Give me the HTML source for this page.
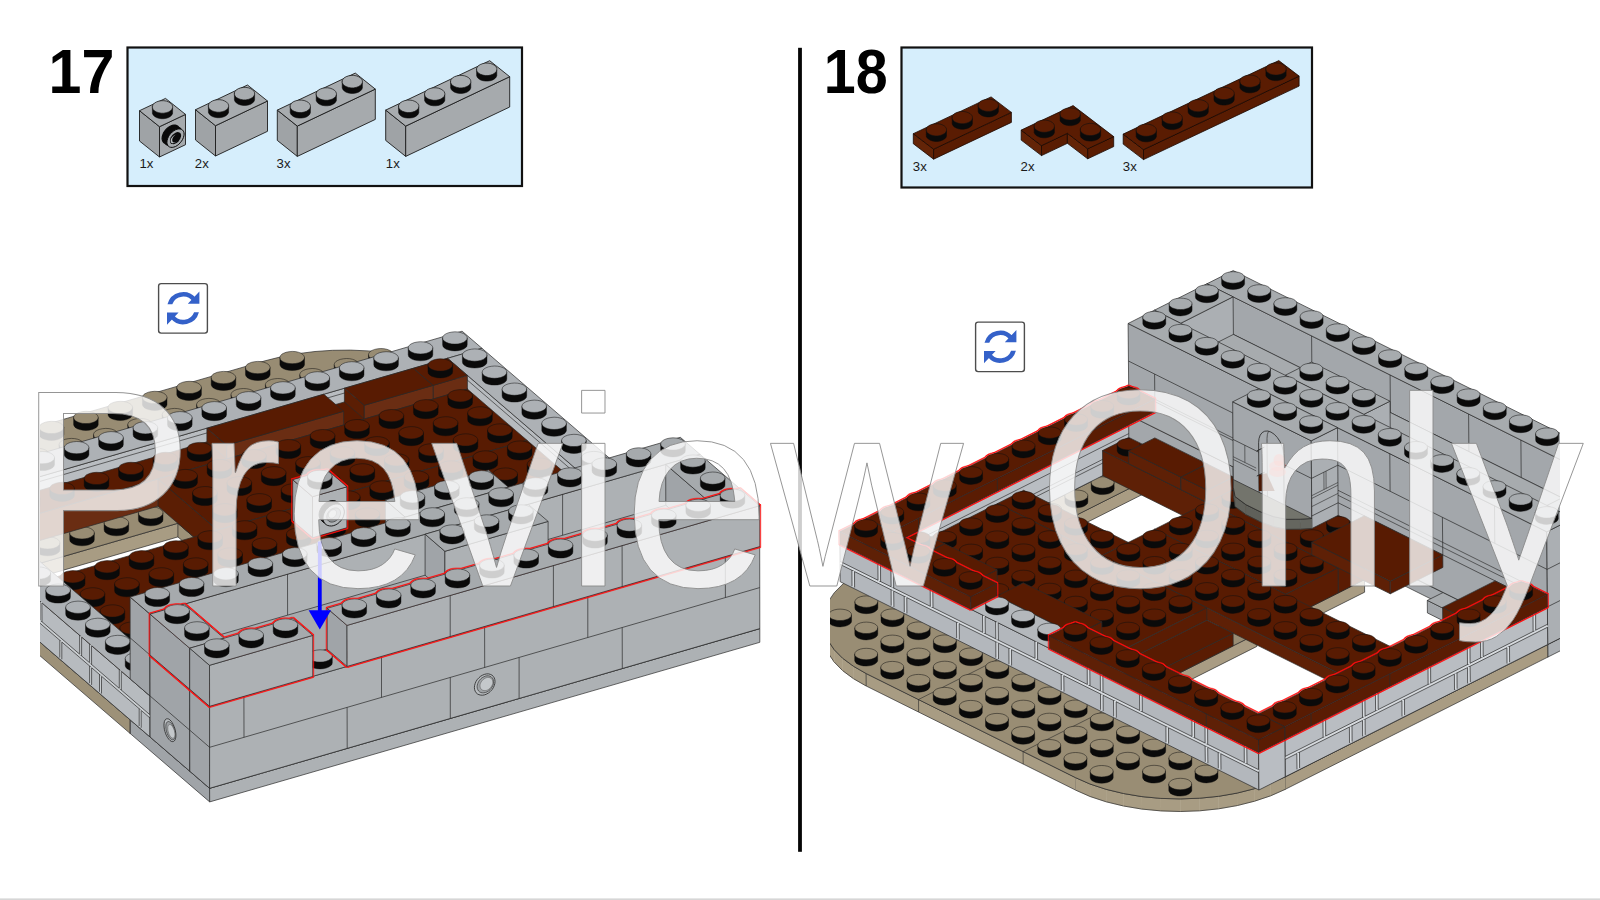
<!DOCTYPE html>
<html><head><meta charset="utf-8"><title>Step 17-18</title>
<style>
html,body{margin:0;padding:0;background:#fff;}
body{width:1600px;height:900px;overflow:hidden;position:relative;font-family:"Liberation Sans",sans-serif;}
svg{position:absolute;left:0;top:0;}
.num{font-weight:bold;font-size:63.4px;fill:#000;}
.q{font-size:13.2px;fill:#1a1a1a;}
.wm{font-size:270px;fill:#fff;fill-opacity:0.8;stroke:#8a8a8a;stroke-width:1;stroke-opacity:0.9;}
</style></head><body>
<svg width="1600" height="900" viewBox="0 0 1600 900" font-family="Liberation Sans, sans-serif">
<defs>
<clipPath id="c17"><rect x="40" y="300" width="722" height="520"/></clipPath>
<clipPath id="c18"><rect x="830" y="250" width="730" height="580"/></clipPath>
<filter id="ol" x="-2%" y="-2%" width="104%" height="104%" color-interpolation-filters="sRGB">
<feMorphology in="SourceAlpha" operator="dilate" radius="0.7" result="d"/>
<feMorphology in="SourceAlpha" operator="erode" radius="0.3" result="e"/>
<feComposite in="d" in2="e" operator="out" result="ring"/>
<feFlood flood-color="#ff0d0d"/>
<feComposite in2="ring" operator="in"/>
</filter>
<g id="a0"><polygon points="-12.3,-6.8 -12.3,0 -11.9,1.6 -10.7,3.1 -8.7,4.4 -6.2,5.3 -3.2,5.9 -0,6.1 3.2,5.9 6.2,5.3 8.7,4.3 10.7,3 11.9,1.6 12.3,-0 12.3,-6.9" fill="#0a0a0a" stroke="#0a0a0a" stroke-width="0.4"/><polygon points="10.7,-9.9 8.7,-11.2 6.1,-12.2 3.2,-12.8 -0,-13 -3.2,-12.7 -6.2,-12.1 -8.7,-11.1 -10.7,-9.9 -11.9,-8.4 -12.3,-6.8 -11.9,-5.2 -10.7,-3.7 -8.7,-2.5 -6.2,-1.5 -3.2,-0.9 -0,-0.7 3.2,-0.9 6.1,-1.5 8.7,-2.5 10.6,-3.8 11.9,-5.3 12.3,-6.9 11.9,-8.4" fill="#988c73" stroke="#111" stroke-width="0.5"/></g><g id="a1"><polygon points="-12.3,-6.8 -12.3,0 -11.9,1.6 -10.7,3.1 -8.7,4.4 -6.2,5.3 -3.2,5.9 -0,6.1 3.2,5.9 6.2,5.3 8.7,4.3 10.7,3 11.9,1.6 12.3,-0 12.3,-6.9" fill="#0a0a0a" stroke="#0a0a0a" stroke-width="0.4"/><polygon points="10.7,-9.9 8.7,-11.2 6.1,-12.2 3.2,-12.8 -0,-13 -3.2,-12.7 -6.2,-12.1 -8.7,-11.1 -10.7,-9.9 -11.9,-8.4 -12.3,-6.8 -11.9,-5.2 -10.7,-3.7 -8.7,-2.5 -6.2,-1.5 -3.2,-0.9 -0,-0.7 3.2,-0.9 6.1,-1.5 8.7,-2.5 10.6,-3.8 11.9,-5.3 12.3,-6.9 11.9,-8.4" fill="#adb1b5" stroke="#111" stroke-width="0.5"/></g><g id="a2"><polygon points="-12.3,-6.8 -12.3,0 -11.9,1.6 -10.7,3.1 -8.7,4.4 -6.2,5.3 -3.2,5.9 -0,6.1 3.2,5.9 6.2,5.3 8.7,4.3 10.7,3 11.9,1.6 12.3,-0 12.3,-6.9" fill="#0a0a0a" stroke="#0a0a0a" stroke-width="0.4"/><polygon points="10.7,-9.9 8.7,-11.2 6.1,-12.2 3.2,-12.8 -0,-13 -3.2,-12.7 -6.2,-12.1 -8.7,-11.1 -10.7,-9.9 -11.9,-8.4 -12.3,-6.8 -11.9,-5.2 -10.7,-3.7 -8.7,-2.5 -6.2,-1.5 -3.2,-0.9 -0,-0.7 3.2,-0.9 6.1,-1.5 8.7,-2.5 10.6,-3.8 11.9,-5.3 12.3,-6.9 11.9,-8.4" fill="#581b02" stroke="#111" stroke-width="0.5"/></g><g id="a3"><polygon points="-12.3,-6.8 -12.3,0 -11.9,1.6 -10.7,3.1 -8.7,4.4 -6.2,5.3 -3.2,5.9 -0,6.1 3.2,5.9 6.2,5.3 8.7,4.3 10.7,3 11.9,1.6 12.3,-0 12.3,-6.9" fill="#0a0a0a" stroke="#0a0a0a" stroke-width="0.4"/><polygon points="10.7,-9.9 8.7,-11.2 6.1,-12.2 3.2,-12.8 -0,-13 -3.2,-12.7 -6.2,-12.1 -8.7,-11.1 -10.7,-9.9 -11.9,-8.4 -12.3,-6.8 -11.9,-5.2 -10.7,-3.7 -8.7,-2.5 -6.2,-1.5 -3.2,-0.9 -0,-0.7 3.2,-0.9 6.1,-1.5 8.7,-2.5 10.6,-3.8 11.9,-5.3 12.3,-6.9 11.9,-8.4" fill="#a6aaad" stroke="#111" stroke-width="0.5"/></g><g id="p0"><polygon points="-10.1,-6.4 -10.1,-0.8 -10.1,0.8 -9.4,2.4 -8.1,3.8 -6.2,5 -3.9,5.8 -1.3,6.2 1.3,6.2 3.9,5.8 6.2,5 8.1,3.8 9.4,2.4 10.1,0.8 10.1,-4.8" fill="#0a0a0a" stroke="#0a0a0a" stroke-width="0.5"/><polygon points="8.1,-9.4 6.2,-10.5 3.9,-11.4 1.3,-11.8 -1.3,-11.8 -3.9,-11.3 -6.2,-10.5 -8.1,-9.4 -9.4,-7.9 -10.1,-6.4 -10.1,-4.7 -9.4,-3.1 -8.1,-1.7 -6.2,-0.6 -3.9,0.2 -1.3,0.7 1.3,0.7 3.9,0.2 6.2,-0.6 8.1,-1.8 9.4,-3.2 10.1,-4.8 10.1,-6.4 9.4,-8" fill="#a8acaf" stroke="#111" stroke-width="0.7"/></g><g id="b0"><polygon points="-11.5,-6.2 -11.5,0 -11.1,1.5 -10,2.9 -8.1,4.1 -5.8,5 -3,5.6 -0,5.8 3,5.5 5.7,5 8.1,4 9.9,2.8 11.1,1.4 11.5,-0 11.4,-6.3" fill="#0a0a0a" stroke="#0a0a0a" stroke-width="0.4"/><polygon points="8.1,-10.4 5.7,-11.3 2.9,-11.8 -0,-12 -3,-11.8 -5.8,-11.2 -8.2,-10.3 -10,-9.1 -11.1,-7.7 -11.5,-6.2 -11.2,-4.7 -10,-3.3 -8.2,-2.2 -5.8,-1.3 -3,-0.7 -0.1,-0.5 2.9,-0.7 5.7,-1.3 8.1,-2.2 9.9,-3.4 11,-4.8 11.4,-6.3 11.1,-7.8 9.9,-9.2" fill="#a7abae" stroke="#111" stroke-width="0.5"/></g><g id="b1"><polygon points="-11.5,-6.2 -11.5,0 -11.1,1.5 -10,2.9 -8.1,4.1 -5.8,5 -3,5.6 -0,5.8 3,5.5 5.7,5 8.1,4 9.9,2.8 11.1,1.4 11.5,-0 11.4,-6.3" fill="#0a0a0a" stroke="#0a0a0a" stroke-width="0.4"/><polygon points="8.1,-10.4 5.7,-11.3 2.9,-11.8 -0,-12 -3,-11.8 -5.8,-11.2 -8.2,-10.3 -10,-9.1 -11.1,-7.7 -11.5,-6.2 -11.2,-4.7 -10,-3.3 -8.2,-2.2 -5.8,-1.3 -3,-0.7 -0.1,-0.5 2.9,-0.7 5.7,-1.3 8.1,-2.2 9.9,-3.4 11,-4.8 11.4,-6.3 11.1,-7.8 9.9,-9.2" fill="#998d74" stroke="#111" stroke-width="0.5"/></g><g id="b2"><polygon points="-11.5,-6.2 -11.5,0 -11.1,1.5 -10,2.9 -8.1,4.1 -5.8,5 -3,5.6 -0,5.8 3,5.5 5.7,5 8.1,4 9.9,2.8 11.1,1.4 11.5,-0 11.4,-6.3" fill="#0a0a0a" stroke="#0a0a0a" stroke-width="0.4"/><polygon points="8.1,-10.4 5.7,-11.3 2.9,-11.8 -0,-12 -3,-11.8 -5.8,-11.2 -8.2,-10.3 -10,-9.1 -11.1,-7.7 -11.5,-6.2 -11.2,-4.7 -10,-3.3 -8.2,-2.2 -5.8,-1.3 -3,-0.7 -0.1,-0.5 2.9,-0.7 5.7,-1.3 8.1,-2.2 9.9,-3.4 11,-4.8 11.4,-6.3 11.1,-7.8 9.9,-9.2" fill="#581b02" stroke="#111" stroke-width="0.5"/></g><g id="b3"><polygon points="-11.5,-6.2 -11.5,0 -11.1,1.5 -10,2.9 -8.1,4.1 -5.8,5 -3,5.6 -0,5.8 3,5.5 5.7,5 8.1,4 9.9,2.8 11.1,1.4 11.5,-0 11.4,-6.3" fill="#0a0a0a" stroke="#0a0a0a" stroke-width="0.4"/><polygon points="8.1,-10.4 5.7,-11.3 2.9,-11.8 -0,-12 -3,-11.8 -5.8,-11.2 -8.2,-10.3 -10,-9.1 -11.1,-7.7 -11.5,-6.2 -11.2,-4.7 -10,-3.3 -8.2,-2.2 -5.8,-1.3 -3,-0.7 -0.1,-0.5 2.9,-0.7 5.7,-1.3 8.1,-2.2 9.9,-3.4 11,-4.8 11.4,-6.3 11.1,-7.8 9.9,-9.2" fill="#b4b8bc" stroke="#111" stroke-width="0.5"/></g><g id="q0"><polygon points="-10.1,-6.2 -10.1,-0.7 -10.1,0.9 -9.4,2.4 -8,3.8 -6.1,4.9 -3.8,5.7 -1.2,6.1 1.4,6.1 4,5.6 6.3,4.8 8.2,3.7 9.5,2.3 10.1,0.7 10.1,-4.8" fill="#0a0a0a" stroke="#0a0a0a" stroke-width="0.5"/><polygon points="8,-9.3 6.1,-10.4 3.8,-11.2 1.2,-11.6 -1.4,-11.6 -4,-11.1 -6.3,-10.3 -8.2,-9.2 -9.5,-7.8 -10.1,-6.2 -10.1,-4.6 -9.4,-3.1 -8,-1.7 -6.1,-0.6 -3.8,0.2 -1.2,0.6 1.4,0.6 4,0.1 6.3,-0.7 8.2,-1.8 9.5,-3.2 10.1,-4.8 10.1,-6.4 9.4,-7.9" fill="#5a1c02" stroke="#111" stroke-width="0.6"/></g>
</defs>
<rect x="0" y="0" width="1600" height="900" fill="#fff"/>
<rect x="0" y="898.4" width="1600" height="1.6" fill="#d6d6d6"/>
<rect x="798.1" y="47.8" width="3.8" height="804" fill="#050505"/>

<rect x="127.5" y="47.5" width="394.5" height="138.5" fill="#d6eefc" stroke="#111" stroke-width="2.2"/>
<rect x="901.5" y="47.5" width="410.5" height="140" fill="#d6eefc" stroke="#111" stroke-width="2.2"/>
<text class="num" transform="translate(48.6,92.9) scale(0.934,1)">17</text>
<text class="num" transform="translate(823.7,93.4) scale(0.906,1)">18</text>
<polygon points="159.5,157 139.5,141 139.5,110.7 159.5,126.7" fill="#9fa3a6" stroke="#1c1c1c" stroke-width="0.9" stroke-linejoin="round"/><polygon points="159.5,157 185.5,144.7 185.5,114.4 159.5,126.7" fill="#a6aaad" stroke="#1c1c1c" stroke-width="0.9" stroke-linejoin="round"/><polygon points="159.5,126.7 185.5,114.4 165.5,98.4 139.5,110.7" fill="#a8acaf" stroke="#1c1c1c" stroke-width="0.9" stroke-linejoin="round"/><use href="#p0" x="162.5" y="112.5"/>
<polygon points="179.3,130.2 179.1,128.7 178.6,127.4 177.8,126.3 176.7,125.5 175.4,125.1 174,125.1 172.4,125.4 170.7,126 169,126.9 167.4,128.2 165.9,129.7 164.6,131.3 163.5,133.1 162.8,134.9 162.3,136.7 162.1,138.4 162.3,139.9 162.8,141.3 163.5,142.3 164.6,143.1 165.9,143.5 167.4,143.6 169,143.3 170.7,142.7 172.4,141.7 174,140.5 175.4,139 176.7,137.3 177.8,135.6 178.6,133.7 179.1,131.9" fill="#0a0a0a" stroke="#0a0a0a" stroke-width="1.2"/>
<polygon points="181.7,132.2 181.5,130.6 181,129.3 180.2,128.2 179.1,127.5 177.8,127 176.4,127 174.8,127.3 173.1,127.9 171.4,128.9 169.8,130.1 168.3,131.6 167,133.2 165.9,135 165.2,136.8 164.7,138.6 164.5,140.3 164.7,141.9 165.2,143.2 165.9,144.3 167,145 168.3,145.4 169.8,145.5 171.4,145.2 173.1,144.6 174.8,143.6 176.4,142.4 177.8,140.9 179.1,139.2 180.2,137.5 181,135.7 181.5,133.9" fill="#0a0a0a" stroke="#0a0a0a" stroke-width="1.2"/>
<polygon points="184.1,134.1 183.9,132.5 183.4,131.2 182.6,130.1 181.5,129.4 180.2,129 178.8,128.9 177.2,129.2 175.5,129.8 173.8,130.8 172.2,132 170.7,133.5 169.4,135.1 168.3,136.9 167.6,138.7 167.1,140.5 166.9,142.2 167.1,143.8 167.6,145.1 168.3,146.2 169.4,146.9 170.7,147.3 172.2,147.4 173.8,147.1 175.5,146.5 177.2,145.5 178.8,144.3 180.2,142.8 181.5,141.2 182.6,139.4 183.4,137.6 183.9,135.8" fill="#a6aaad" stroke="#0a0a0a" stroke-width="1"/>
<polygon points="181.1,135.5 181,134.5 180.6,133.6 180.1,132.9 179.4,132.4 178.6,132.2 177.6,132.1 176.6,132.3 175.5,132.7 174.4,133.4 173.3,134.2 172.4,135.1 171.5,136.2 170.8,137.3 170.3,138.5 170,139.7 169.9,140.8 170,141.8 170.3,142.7 170.8,143.4 171.5,143.9 172.4,144.1 173.3,144.2 174.4,144 175.5,143.6 176.6,143 177.6,142.2 178.6,141.2 179.4,140.1 180.1,139 180.6,137.8 181,136.6" fill="#0a0a0a"/>
<polygon points="178.4,137.2 178.3,136.5 178.1,135.9 177.7,135.4 177.2,135.1 176.6,134.9 176,134.8 175.2,135 174.5,135.3 173.7,135.7 173,136.3 172.3,136.9 171.7,137.7 171.2,138.5 170.9,139.3 170.7,140.1 170.6,140.9 170.7,141.6 170.9,142.2 171.2,142.7 171.7,143 172.3,143.2 173,143.3 173.7,143.1 174.5,142.8 175.2,142.4 176,141.8 176.6,141.2 177.2,140.4 177.7,139.6 178.1,138.8 178.3,138" fill="#b9bdc0"/>
<polygon points="180,136.4 179.9,135.7 179.7,135.1 179.3,134.6 178.8,134.3 178.2,134.1 177.6,134 176.8,134.2 176.1,134.5 175.3,134.9 174.6,135.5 173.9,136.1 173.3,136.9 172.8,137.7 172.5,138.5 172.3,139.3 172.2,140.1 172.3,140.8 172.5,141.4 172.8,141.9 173.3,142.2 173.9,142.4 174.6,142.5 175.3,142.3 176.1,142 176.8,141.6 177.6,141 178.2,140.4 178.8,139.6 179.3,138.8 179.7,138 179.9,137.2" fill="#0a0a0a"/>
<polygon points="215.5,156 195.5,140 195.5,109.7 215.5,125.7" fill="#9fa3a6" stroke="#1c1c1c" stroke-width="0.9" stroke-linejoin="round"/><polygon points="215.5,156 267.5,131.3 267.5,101 215.5,125.7" fill="#a6aaad" stroke="#1c1c1c" stroke-width="0.9" stroke-linejoin="round"/><polygon points="215.5,125.7 267.5,101 247.5,85 195.5,109.7" fill="#a8acaf" stroke="#1c1c1c" stroke-width="0.9" stroke-linejoin="round"/><use href="#p0" x="244.5" y="99.2"/><use href="#p0" x="218.5" y="111.5"/>
<polygon points="297.3,156.4 277.3,140.4 277.3,110.1 297.3,126.1" fill="#9fa3a6" stroke="#1c1c1c" stroke-width="0.9" stroke-linejoin="round"/><polygon points="297.3,156.4 375.3,119.4 375.3,89.1 297.3,126.1" fill="#a6aaad" stroke="#1c1c1c" stroke-width="0.9" stroke-linejoin="round"/><polygon points="297.3,126.1 375.3,89.1 355.3,73.1 277.3,110.1" fill="#a8acaf" stroke="#1c1c1c" stroke-width="0.9" stroke-linejoin="round"/><use href="#p0" x="352.3" y="87.2"/><use href="#p0" x="326.3" y="99.6"/><use href="#p0" x="300.3" y="111.9"/>
<polygon points="405.7,156.4 385.7,140.4 385.7,110.1 405.7,126.1" fill="#9fa3a6" stroke="#1c1c1c" stroke-width="0.9" stroke-linejoin="round"/><polygon points="405.7,156.4 509.7,107 509.7,76.7 405.7,126.1" fill="#a6aaad" stroke="#1c1c1c" stroke-width="0.9" stroke-linejoin="round"/><polygon points="405.7,126.1 509.7,76.7 489.7,60.7 385.7,110.1" fill="#a8acaf" stroke="#1c1c1c" stroke-width="0.9" stroke-linejoin="round"/><use href="#p0" x="486.7" y="74.9"/><use href="#p0" x="460.7" y="87.2"/><use href="#p0" x="434.7" y="99.6"/><use href="#p0" x="408.7" y="111.9"/>
<polygon points="933.6,159.2 913.3,143.7 913.3,133.7 933.6,149.2" fill="#632407" stroke="#1a0800" stroke-width="0.8" stroke-linejoin="round"/><polygon points="933.6,159.2 1011.4,122.4 1011.4,112.4 933.6,149.2" fill="#591c02" stroke="#1a0800" stroke-width="0.8" stroke-linejoin="round"/><polygon points="933.6,149.2 1011.4,112.4 991.1,96.9 913.3,133.7" fill="#5a1c02" stroke="#1a0800" stroke-width="0.8" stroke-linejoin="round"/><use href="#q0" x="988.3" y="110.8"/><use href="#q0" x="962.3" y="123.1"/><use href="#q0" x="936.4" y="135.3"/>
<polygon points="1041.5,155.6 1067.4,143.3 1067.4,133.3 1041.5,145.6" fill="#591c02" stroke="#1a0800" stroke-width="0.8" stroke-linejoin="round"/><polygon points="1067.4,143.3 1087.7,158.8 1087.7,148.8 1067.4,133.3" fill="#632407" stroke="#1a0800" stroke-width="0.8" stroke-linejoin="round"/><polygon points="1087.7,158.8 1113.7,146.6 1113.7,136.6 1087.7,148.8" fill="#591c02" stroke="#1a0800" stroke-width="0.8" stroke-linejoin="round"/><polygon points="1021.2,140.1 1041.5,155.6 1041.5,145.6 1021.2,130.1" fill="#632407" stroke="#1a0800" stroke-width="0.8" stroke-linejoin="round"/><polygon points="1041.5,145.6 1067.4,133.3 1087.7,148.8 1113.7,136.6 1073.1,105.6 1021.2,130.1" fill="#5a1c02" stroke="#1a0800" stroke-width="0.8" stroke-linejoin="round"/><use href="#q0" x="1070.2" y="119.5"/><use href="#q0" x="1044.3" y="131.7"/><use href="#q0" x="1090.5" y="135"/>
<polygon points="1143.5,159.6 1123.2,144.1 1123.2,134.1 1143.5,149.6" fill="#632407" stroke="#1a0800" stroke-width="0.8" stroke-linejoin="round"/><polygon points="1143.5,159.6 1299.1,86.1 1299.1,76.1 1143.5,149.6" fill="#591c02" stroke="#1a0800" stroke-width="0.8" stroke-linejoin="round"/><polygon points="1143.5,149.6 1299.1,76.1 1278.8,60.6 1123.2,134.1" fill="#5a1c02" stroke="#1a0800" stroke-width="0.8" stroke-linejoin="round"/><use href="#q0" x="1276" y="74.5"/><use href="#q0" x="1250" y="86.7"/><use href="#q0" x="1224.1" y="99"/><use href="#q0" x="1198.2" y="111.2"/><use href="#q0" x="1172.2" y="123.5"/><use href="#q0" x="1146.3" y="135.7"/>
<text class="q" x="139.4" y="168.3">1x</text>
<text class="q" x="194.8" y="168.3">2x</text>
<text class="q" x="276.6" y="168.3">3x</text>
<text class="q" x="385.8" y="168.3">1x</text>
<text class="q" x="912.8" y="170.6">3x</text>
<text class="q" x="1020.6" y="170.6">2x</text>
<text class="q" x="1122.8" y="170.6">3x</text>
<rect x="158.6" y="283.6" width="48.8" height="49.5" rx="2.5" fill="#fff" stroke="#4d4d4d" stroke-width="1.4"/>
<g transform="translate(183.2,308.2)" fill="#3461c9"><path d="M-15.7,-4 A16.2,16.2 0 0 1 12.4,-10.4 L9.7,-6.3 A11.6,11.6 0 0 0 -10.9,-4 Z M16.2,-16.6 L16.2,-4.4 L4.6,-4.4 Z"/><path d="M-15.7,-4 A16.2,16.2 0 0 1 12.4,-10.4 L9.7,-6.3 A11.6,11.6 0 0 0 -10.9,-4 Z M16.2,-16.6 L16.2,-4.4 L4.6,-4.4 Z" transform="rotate(180)"/></g>
<rect x="975.6" y="322.1" width="48.8" height="49.5" rx="2.5" fill="#fff" stroke="#4d4d4d" stroke-width="1.4"/>
<g transform="translate(1000.2,346.7)" fill="#3461c9"><path d="M-15.7,-4 A16.2,16.2 0 0 1 12.4,-10.4 L9.7,-6.3 A11.6,11.6 0 0 0 -10.9,-4 Z M16.2,-16.6 L16.2,-4.4 L4.6,-4.4 Z"/><path d="M-15.7,-4 A16.2,16.2 0 0 1 12.4,-10.4 L9.7,-6.3 A11.6,11.6 0 0 0 -10.9,-4 Z M16.2,-16.6 L16.2,-4.4 L4.6,-4.4 Z" transform="rotate(180)"/></g>
<g clip-path="url(#c17)"><polygon points="-234.7,656.7 521.7,437.1 521.7,423.5 -234.8,643" fill="#a89c83" stroke="#2a2a2a" stroke-width="0.7" stroke-linejoin="round"/><polygon points="-353.8,554.1 -234.7,656.7 -234.8,643 -353.8,540.5" fill="#a89c83" stroke="#2a2a2a" stroke-width="0.7" stroke-linejoin="round"/><polygon points="-234.8,643 521.7,423.5 482,389.3 472.3,381.9 460.9,375.1 448.1,369 434,363.6 418.7,359 402.5,355.4 385.6,352.6 368.2,350.9 350.5,350.1 332.6,350.3 315,351.5 297.7,353.7 281,356.8 265.1,360.8 -353.8,540.5" fill="#988c73" stroke="#2a2a2a" stroke-width="0.7" stroke-linejoin="round"/><use href="#a0" x="380.8" y="361.5"/><use href="#a0" x="435.1" y="368.7"/><use href="#a0" x="292.2" y="364.4"/><use href="#a0" x="346.5" y="371.5"/><use href="#a0" x="400.7" y="378.6"/><use href="#a0" x="257.8" y="374.4"/><use href="#a0" x="312.1" y="381.5"/><use href="#a0" x="366.3" y="388.6"/><use href="#a0" x="223.5" y="384.4"/><use href="#a0" x="277.7" y="391.5"/><use href="#a0" x="331.9" y="398.6"/><use href="#a0" x="189.1" y="394.3"/><use href="#a0" x="243.3" y="401.5"/><use href="#a0" x="297.5" y="408.6"/><use href="#a0" x="154.7" y="404.3"/><use href="#a0" x="208.9" y="411.4"/><use href="#a0" x="263.1" y="418.5"/><use href="#a0" x="120.3" y="414.3"/><use href="#a0" x="174.5" y="421.4"/><use href="#a0" x="228.8" y="428.5"/><use href="#a0" x="85.9" y="424.3"/><use href="#a0" x="140.1" y="431.4"/><use href="#a0" x="194.4" y="438.5"/><use href="#a0" x="51.5" y="434.3"/><use href="#a0" x="105.8" y="441.4"/><use href="#a0" x="160" y="448.5"/><use href="#a0" x="17.2" y="444.2"/><use href="#a0" x="71.4" y="451.4"/><use href="#a0" x="125.6" y="458.5"/><use href="#a0" x="-17.2" y="454.2"/><use href="#a0" x="37" y="461.3"/><use href="#a0" x="91.2" y="468.4"/><use href="#a0" x="-51.6" y="464.2"/><use href="#a0" x="2.6" y="471.3"/><use href="#a0" x="56.8" y="478.4"/><use href="#a0" x="-86" y="474.2"/><use href="#a0" x="-31.8" y="481.3"/><use href="#a0" x="22.5" y="488.4"/><use href="#a0" x="-120.4" y="484.2"/><use href="#a0" x="-66.2" y="491.3"/><use href="#a0" x="-11.9" y="498.4"/><use href="#a0" x="150.7" y="519.7"/><use href="#a0" x="-154.8" y="494.1"/><use href="#a0" x="-100.5" y="501.2"/><use href="#a0" x="-46.3" y="508.4"/><use href="#a0" x="116.4" y="529.7"/><use href="#a0" x="-189.1" y="504.1"/><use href="#a0" x="-134.9" y="511.2"/><use href="#a0" x="-80.7" y="518.3"/><use href="#a0" x="82" y="539.7"/><use href="#a0" x="-223.5" y="514.1"/><use href="#a0" x="-169.3" y="521.2"/><use href="#a0" x="-115.1" y="528.3"/><use href="#a0" x="47.6" y="549.7"/><use href="#a0" x="-257.9" y="524.1"/><use href="#a0" x="-203.7" y="531.2"/><use href="#a0" x="-149.5" y="538.3"/><use href="#a0" x="13.2" y="559.6"/><use href="#a0" x="-292.3" y="534"/><use href="#a0" x="-238.1" y="541.2"/><use href="#a0" x="-183.9" y="548.3"/><use href="#a0" x="-272.5" y="551.1"/><use href="#a0" x="-218.2" y="558.3"/><use href="#a0" x="-252.6" y="568.2"/>
<polygon points="-68.1,549 -88,531.9 -88,490.9 -68.2,508" fill="#b7bbbf" stroke="#2a2a2a" stroke-width="0.7" stroke-linejoin="round"/><polygon points="-68.1,549 482,389.3 482,348.3 -68.2,508" fill="#b9bdc1" stroke="#2a2a2a" stroke-width="0.7" stroke-linejoin="round"/><polygon points="-68.2,508 482,348.3 462.1,331.2 -88,490.9" fill="#adb1b5" stroke="#2a2a2a" stroke-width="0.7" stroke-linejoin="round"/><line x1="-68.2" y1="512.8" x2="482" y2="353.1" stroke="#333" stroke-width="0.7"/><use href="#a1" x="454.9" y="344.8"/><use href="#a1" x="420.5" y="354.7"/><use href="#a1" x="386.1" y="364.7"/><use href="#a1" x="351.7" y="374.7"/><use href="#a1" x="317.3" y="384.7"/><use href="#a1" x="282.9" y="394.7"/><use href="#a1" x="248.6" y="404.6"/><use href="#a1" x="214.2" y="414.6"/><use href="#a1" x="179.8" y="424.6"/><use href="#a1" x="145.4" y="434.6"/><use href="#a1" x="111" y="444.6"/><use href="#a1" x="76.6" y="454.5"/><use href="#a1" x="42.2" y="464.5"/><use href="#a1" x="7.9" y="474.5"/><use href="#a1" x="-26.5" y="484.5"/><use href="#a1" x="-60.9" y="494.5"/>
<polygon points="217.6,571.1 177.9,536.9 177.9,523.3 217.5,557.5" fill="#9d9178" stroke="#2a2a2a" stroke-width="0.7" stroke-linejoin="round"/><polygon points="217.6,571.1 561.4,471.3 561.4,457.7 217.5,557.5" fill="#b8ac94" stroke="#2a2a2a" stroke-width="0.7" stroke-linejoin="round"/><polygon points="217.5,557.5 561.4,457.7 521.7,423.5 177.9,523.3" fill="#988c73" stroke="#2a2a2a" stroke-width="0.7" stroke-linejoin="round"/>
<polygon points="11.2,631 -28.4,596.8 -28.4,583.2 11.2,617.3" fill="#9d9178" stroke="#2a2a2a" stroke-width="0.7" stroke-linejoin="round"/><polygon points="11.2,631 45.6,621 45.6,607.4 11.2,617.3" fill="#b8ac94" stroke="#2a2a2a" stroke-width="0.7" stroke-linejoin="round"/><polygon points="11.2,617.3 45.6,607.4 5.9,573.2 -28.4,583.2" fill="#988c73" stroke="#2a2a2a" stroke-width="0.7" stroke-linejoin="round"/>
<polygon points="130.3,733.6 11.2,631 11.2,617.3 130.3,719.9" fill="#9d9178" stroke="#2a2a2a" stroke-width="0.7" stroke-linejoin="round"/><polygon points="130.3,733.6 680.4,573.9 680.4,560.2 130.3,719.9" fill="#b8ac94" stroke="#2a2a2a" stroke-width="0.7" stroke-linejoin="round"/><polygon points="130.3,719.9 680.4,560.2 561.4,457.7 11.2,617.3" fill="#988c73" stroke="#2a2a2a" stroke-width="0.7" stroke-linejoin="round"/>
<polygon points="646,570.2 447.6,399.3 447.6,358.3 646,529.2" fill="#b7bbbf" stroke="#2a2a2a" stroke-width="0.7" stroke-linejoin="round"/><polygon points="646,570.2 680.4,560.2 680.4,519.3 646,529.2" fill="#b9bdc1" stroke="#2a2a2a" stroke-width="0.7" stroke-linejoin="round"/><polygon points="646,529.2 680.4,519.3 482,348.3 447.6,358.3" fill="#adb1b5" stroke="#2a2a2a" stroke-width="0.7" stroke-linejoin="round"/><line x1="646" y1="534" x2="447.6" y2="363.1" stroke="#333" stroke-width="0.7"/><use href="#a1" x="474.7" y="361.9"/><use href="#a1" x="494.5" y="379"/><use href="#a1" x="514.4" y="396"/><use href="#a1" x="534.2" y="413.1"/><use href="#a1" x="554.1" y="430.2"/><use href="#a1" x="573.9" y="447.3"/><use href="#a1" x="593.7" y="464.4"/><use href="#a1" x="613.6" y="481.5"/><use href="#a1" x="633.4" y="498.6"/><use href="#a1" x="653.3" y="515.7"/>
<polygon points="-13.9,556.1 -33.7,539 -33.8,511.7 -13.9,528.8" fill="#5b1e04" stroke="#2a2a2a" stroke-width="0.7" stroke-linejoin="round"/><polygon points="-13.9,556.1 467.5,416.4 467.4,389.1 -13.9,528.8" fill="#6a2d13" stroke="#2a2a2a" stroke-width="0.7" stroke-linejoin="round"/><polygon points="-13.9,528.8 467.4,389.1 447.6,372 -33.8,511.7" fill="#581b02" stroke="#2a2a2a" stroke-width="0.7" stroke-linejoin="round"/><use href="#a2" x="199.6" y="455.4"/><use href="#a2" x="165.3" y="465.3"/><use href="#a2" x="130.9" y="475.3"/><use href="#a2" x="96.5" y="485.3"/><use href="#a2" x="62.1" y="495.3"/><use href="#a2" x="27.7" y="505.2"/><use href="#a2" x="-6.7" y="515.2"/>
<polygon points="433.1,399 413.2,381.9 413.2,368.3 433,385.4" fill="#5b1e04" stroke="#2a2a2a" stroke-width="0.7" stroke-linejoin="round"/><polygon points="433.1,399 467.4,389.1 467.4,375.4 433,385.4" fill="#6a2d13" stroke="#2a2a2a" stroke-width="0.7" stroke-linejoin="round"/><polygon points="433,385.4 467.4,375.4 447.6,358.3 413.2,368.3" fill="#581b02" stroke="#2a2a2a" stroke-width="0.7" stroke-linejoin="round"/><use href="#a2" x="440.3" y="371.8"/>
<polygon points="364.3,419 344.4,401.9 344.4,388.2 364.3,405.3" fill="#5b1e04" stroke="#2a2a2a" stroke-width="0.7" stroke-linejoin="round"/><polygon points="364.3,419 433.1,399 433,385.4 364.3,405.3" fill="#6a2d13" stroke="#2a2a2a" stroke-width="0.7" stroke-linejoin="round"/><polygon points="364.3,405.3 433,385.4 413.2,368.3 344.4,388.2" fill="#581b02" stroke="#2a2a2a" stroke-width="0.7" stroke-linejoin="round"/>
<polygon points="226.8,458.9 206.9,441.8 206.9,428.2 226.7,445.2" fill="#5b1e04" stroke="#2a2a2a" stroke-width="0.7" stroke-linejoin="round"/><polygon points="226.8,458.9 343.7,425 343.6,411.3 226.7,445.2" fill="#6a2d13" stroke="#2a2a2a" stroke-width="0.7" stroke-linejoin="round"/><polygon points="226.7,445.2 343.6,411.3 323.8,394.2 206.9,428.2" fill="#581b02" stroke="#2a2a2a" stroke-width="0.7" stroke-linejoin="round"/>
<polygon points="217.5,557.5 158,506.2 158,478.9 217.5,530.1" fill="#5b1e04" stroke="#2a2a2a" stroke-width="0.7" stroke-linejoin="round"/><polygon points="217.5,557.5 527,467.7 527,440.3 217.5,530.1" fill="#6a2d13" stroke="#2a2a2a" stroke-width="0.7" stroke-linejoin="round"/><polygon points="217.5,530.1 527,440.3 467.4,389.1 158,478.9" fill="#581b02" stroke="#2a2a2a" stroke-width="0.7" stroke-linejoin="round"/><use href="#a2" x="460.2" y="402.6"/><use href="#a2" x="425.8" y="412.6"/><use href="#a2" x="391.4" y="422.5"/><use href="#a2" x="357" y="432.5"/><use href="#a2" x="322.6" y="442.5"/><use href="#a2" x="288.3" y="452.5"/><use href="#a2" x="253.9" y="462.5"/><use href="#a2" x="219.5" y="472.4"/><use href="#a2" x="185.1" y="482.4"/><use href="#a2" x="480" y="419.7"/><use href="#a2" x="445.6" y="429.7"/><use href="#a2" x="411.2" y="439.6"/><use href="#a2" x="376.9" y="449.6"/><use href="#a2" x="342.5" y="459.6"/><use href="#a2" x="308.1" y="469.6"/><use href="#a2" x="273.7" y="479.6"/><use href="#a2" x="239.3" y="489.5"/><use href="#a2" x="204.9" y="499.5"/><use href="#a2" x="499.9" y="436.8"/><use href="#a2" x="465.5" y="446.8"/><use href="#a2" x="431.1" y="456.7"/><use href="#a2" x="396.7" y="466.7"/><use href="#a2" x="362.3" y="476.7"/><use href="#a2" x="327.9" y="486.7"/><use href="#a2" x="293.5" y="496.7"/><use href="#a2" x="259.2" y="506.6"/><use href="#a2" x="224.8" y="516.6"/>
<polygon points="164.7,709.9 45.6,607.4 45.6,580 164.6,682.6" fill="#5b1e04" stroke="#2a2a2a" stroke-width="0.7" stroke-linejoin="round"/><polygon points="164.7,709.9 646,570.2 646,542.9 164.6,682.6" fill="#6a2d13" stroke="#2a2a2a" stroke-width="0.7" stroke-linejoin="round"/><polygon points="164.6,682.6 646,542.9 527,440.3 45.6,580" fill="#581b02" stroke="#2a2a2a" stroke-width="0.7" stroke-linejoin="round"/><use href="#a2" x="519.7" y="453.9"/><use href="#a2" x="485.3" y="463.8"/><use href="#a2" x="450.9" y="473.8"/><use href="#a2" x="416.5" y="483.8"/><use href="#a2" x="382.2" y="493.8"/><use href="#a2" x="347.8" y="503.8"/><use href="#a2" x="313.4" y="513.7"/><use href="#a2" x="279" y="523.7"/><use href="#a2" x="244.6" y="533.7"/><use href="#a2" x="210.2" y="543.7"/><use href="#a2" x="175.9" y="553.7"/><use href="#a2" x="141.5" y="563.6"/><use href="#a2" x="107.1" y="573.6"/><use href="#a2" x="72.7" y="583.6"/><use href="#a2" x="539.5" y="471"/><use href="#a2" x="505.2" y="480.9"/><use href="#a2" x="470.8" y="490.9"/><use href="#a2" x="436.4" y="500.9"/><use href="#a2" x="402" y="510.9"/><use href="#a2" x="367.6" y="520.9"/><use href="#a2" x="333.2" y="530.8"/><use href="#a2" x="298.8" y="540.8"/><use href="#a2" x="264.5" y="550.8"/><use href="#a2" x="230.1" y="560.8"/><use href="#a2" x="195.7" y="570.8"/><use href="#a2" x="161.3" y="580.7"/><use href="#a2" x="126.9" y="590.7"/><use href="#a2" x="92.5" y="600.7"/><use href="#a2" x="559.4" y="488.1"/><use href="#a2" x="525" y="498"/><use href="#a2" x="490.6" y="508"/><use href="#a2" x="456.2" y="518"/><use href="#a2" x="421.8" y="528"/><use href="#a2" x="387.5" y="538"/><use href="#a2" x="353.1" y="547.9"/><use href="#a2" x="318.7" y="557.9"/><use href="#a2" x="284.3" y="567.9"/><use href="#a2" x="249.9" y="577.9"/><use href="#a2" x="215.5" y="587.8"/><use href="#a2" x="181.2" y="597.8"/><use href="#a2" x="146.8" y="607.8"/><use href="#a2" x="112.4" y="617.8"/><use href="#a2" x="579.2" y="505.1"/><use href="#a2" x="544.8" y="515.1"/><use href="#a2" x="510.4" y="525.1"/><use href="#a2" x="476.1" y="535.1"/><use href="#a2" x="441.7" y="545.1"/><use href="#a2" x="407.3" y="555"/><use href="#a2" x="372.9" y="565"/><use href="#a2" x="338.5" y="575"/><use href="#a2" x="304.1" y="585"/><use href="#a2" x="269.8" y="595"/><use href="#a2" x="235.4" y="604.9"/><use href="#a2" x="201" y="614.9"/><use href="#a2" x="166.6" y="624.9"/><use href="#a2" x="132.2" y="634.9"/><use href="#a2" x="599.1" y="522.2"/><use href="#a2" x="564.7" y="532.2"/><use href="#a2" x="530.3" y="542.2"/><use href="#a2" x="495.9" y="552.2"/><use href="#a2" x="461.5" y="562.2"/><use href="#a2" x="427.1" y="572.1"/><use href="#a2" x="392.8" y="582.1"/><use href="#a2" x="358.4" y="592.1"/><use href="#a2" x="324" y="602.1"/><use href="#a2" x="289.6" y="612.1"/><use href="#a2" x="255.2" y="622"/><use href="#a2" x="220.8" y="632"/><use href="#a2" x="186.4" y="642"/><use href="#a2" x="152.1" y="652"/><use href="#a2" x="618.9" y="539.3"/><use href="#a2" x="584.5" y="549.3"/><use href="#a2" x="550.1" y="559.3"/><use href="#a2" x="515.7" y="569.3"/><use href="#a2" x="481.4" y="579.3"/><use href="#a2" x="447" y="589.2"/><use href="#a2" x="412.6" y="599.2"/><use href="#a2" x="378.2" y="609.2"/><use href="#a2" x="343.8" y="619.2"/><use href="#a2" x="309.4" y="629.1"/><use href="#a2" x="275.1" y="639.1"/><use href="#a2" x="240.7" y="649.1"/><use href="#a2" x="206.3" y="659.1"/><use href="#a2" x="171.9" y="669.1"/>
<polygon points="405.4,640.1 385.5,623 385.4,500 405.2,517.1" fill="#a0a4a8" stroke="#2a2a2a" stroke-width="0.7" stroke-linejoin="round"/><polygon points="405.4,640.1 508.5,610.1 508.4,487.2 405.2,517.1" fill="#adb1b4" stroke="#2a2a2a" stroke-width="0.7" stroke-linejoin="round"/><polygon points="405.2,517.1 508.4,487.2 488.5,470.1 385.4,500" fill="#a6aaad" stroke="#2a2a2a" stroke-width="0.7" stroke-linejoin="round"/><use href="#a3" x="481.3" y="483.6"/><use href="#a3" x="446.9" y="493.6"/><use href="#a3" x="412.5" y="503.6"/>
<polygon points="209.7,801.9 130.3,733.6 130.3,719.9 209.6,788.3" fill="#a0a4a8" stroke="#2a2a2a" stroke-width="0.7" stroke-linejoin="round"/><polygon points="209.7,801.9 759.8,642.3 759.8,628.6 209.6,788.3" fill="#adb1b4" stroke="#2a2a2a" stroke-width="0.7" stroke-linejoin="round"/><polygon points="209.6,788.3 759.8,628.6 680.4,560.2 130.3,719.9" fill="#a6aaad" stroke="#2a2a2a" stroke-width="0.7" stroke-linejoin="round"/>
<polygon points="184.5,727 164.7,709.9 164.6,668.9 184.5,686" fill="#a0a4a8" stroke="#2a2a2a" stroke-width="0.7" stroke-linejoin="round"/><polygon points="184.5,727 700.3,577.3 700.2,536.3 184.5,686" fill="#adb1b4" stroke="#2a2a2a" stroke-width="0.7" stroke-linejoin="round"/><polygon points="184.5,686 700.2,536.3 680.4,519.3 164.6,668.9" fill="#a6aaad" stroke="#2a2a2a" stroke-width="0.7" stroke-linejoin="round"/>
<polygon points="150.1,737 -68.1,549 -68.2,508 150.1,696" fill="#b7bbbf" stroke="#2a2a2a" stroke-width="0.7" stroke-linejoin="round"/><polygon points="150.1,737 184.5,727 184.5,686 150.1,696" fill="#b9bdc1" stroke="#2a2a2a" stroke-width="0.7" stroke-linejoin="round"/><polygon points="150.1,696 184.5,686 -33.8,498 -68.2,508" fill="#adb1b5" stroke="#2a2a2a" stroke-width="0.7" stroke-linejoin="round"/><line x1="150.1" y1="716.5" x2="-68.2" y2="528.5" stroke="#c9cdd0" stroke-width="2.6"/><line x1="150.1" y1="714.9" x2="-68.2" y2="526.8" stroke="#2a2a2a" stroke-width="0.7"/><line x1="150.1" y1="718.1" x2="-68.1" y2="530.1" stroke="#2a2a2a" stroke-width="0.7"/><line x1="140.2" y1="726.8" x2="140.2" y2="709.6" stroke="#c9cdd0" stroke-width="2.4"/><line x1="141.2" y1="727.7" x2="141.2" y2="710.4" stroke="#2a2a2a" stroke-width="0.7"/><line x1="139.2" y1="726" x2="139.2" y2="708.7" stroke="#2a2a2a" stroke-width="0.7"/><line x1="120.3" y1="689.2" x2="120.3" y2="670.4" stroke="#c9cdd0" stroke-width="2.4"/><line x1="121.3" y1="690.1" x2="121.3" y2="671.2" stroke="#2a2a2a" stroke-width="0.7"/><line x1="119.3" y1="688.4" x2="119.3" y2="669.5" stroke="#2a2a2a" stroke-width="0.7"/><line x1="90.6" y1="663.6" x2="90.6" y2="644.7" stroke="#c9cdd0" stroke-width="2.4"/><line x1="91.6" y1="664.4" x2="91.5" y2="645.6" stroke="#2a2a2a" stroke-width="0.7"/><line x1="89.6" y1="662.7" x2="89.6" y2="643.9" stroke="#2a2a2a" stroke-width="0.7"/><line x1="80.7" y1="655" x2="80.6" y2="636.2" stroke="#c9cdd0" stroke-width="2.4"/><line x1="81.6" y1="655.9" x2="81.6" y2="637" stroke="#2a2a2a" stroke-width="0.7"/><line x1="79.7" y1="654.2" x2="79.6" y2="635.3" stroke="#2a2a2a" stroke-width="0.7"/><line x1="100.5" y1="692.6" x2="100.5" y2="675.4" stroke="#c9cdd0" stroke-width="2.4"/><line x1="101.5" y1="693.5" x2="101.5" y2="676.3" stroke="#2a2a2a" stroke-width="0.7"/><line x1="99.5" y1="691.8" x2="99.5" y2="674.6" stroke="#2a2a2a" stroke-width="0.7"/><line x1="90.6" y1="684.1" x2="90.6" y2="666.9" stroke="#c9cdd0" stroke-width="2.4"/><line x1="91.6" y1="684.9" x2="91.6" y2="667.7" stroke="#2a2a2a" stroke-width="0.7"/><line x1="89.6" y1="683.2" x2="89.6" y2="666" stroke="#2a2a2a" stroke-width="0.7"/><line x1="60.8" y1="658.4" x2="60.8" y2="641.2" stroke="#c9cdd0" stroke-width="2.4"/><line x1="61.8" y1="659.3" x2="61.8" y2="642.1" stroke="#2a2a2a" stroke-width="0.7"/><line x1="59.8" y1="657.6" x2="59.8" y2="640.4" stroke="#2a2a2a" stroke-width="0.7"/><line x1="41" y1="620.9" x2="41" y2="602" stroke="#c9cdd0" stroke-width="2.4"/><line x1="42" y1="621.7" x2="41.9" y2="602.9" stroke="#2a2a2a" stroke-width="0.7"/><line x1="40" y1="620" x2="40" y2="601.1" stroke="#2a2a2a" stroke-width="0.7"/><line x1="11.2" y1="595.2" x2="11.2" y2="576.4" stroke="#c9cdd0" stroke-width="2.4"/><line x1="12.2" y1="596.1" x2="12.2" y2="577.2" stroke="#2a2a2a" stroke-width="0.7"/><line x1="10.2" y1="594.4" x2="10.2" y2="575.5" stroke="#2a2a2a" stroke-width="0.7"/><line x1="1.3" y1="586.7" x2="1.3" y2="567.8" stroke="#c9cdd0" stroke-width="2.4"/><line x1="2.3" y1="587.5" x2="2.3" y2="568.7" stroke="#2a2a2a" stroke-width="0.7"/><line x1="0.3" y1="585.8" x2="0.3" y2="567" stroke="#2a2a2a" stroke-width="0.7"/><line x1="21.2" y1="624.2" x2="21.1" y2="607" stroke="#c9cdd0" stroke-width="2.4"/><line x1="22.1" y1="625.1" x2="22.1" y2="607.9" stroke="#2a2a2a" stroke-width="0.7"/><line x1="20.2" y1="623.4" x2="20.1" y2="606.2" stroke="#2a2a2a" stroke-width="0.7"/><line x1="11.2" y1="615.7" x2="11.2" y2="598.5" stroke="#c9cdd0" stroke-width="2.4"/><line x1="12.2" y1="616.6" x2="12.2" y2="599.3" stroke="#2a2a2a" stroke-width="0.7"/><line x1="10.2" y1="614.8" x2="10.2" y2="597.6" stroke="#2a2a2a" stroke-width="0.7"/><line x1="-18.5" y1="590.1" x2="-18.5" y2="572.8" stroke="#c9cdd0" stroke-width="2.4"/><line x1="-17.5" y1="590.9" x2="-17.6" y2="573.7" stroke="#2a2a2a" stroke-width="0.7"/><line x1="-19.5" y1="589.2" x2="-19.5" y2="572" stroke="#2a2a2a" stroke-width="0.7"/><line x1="-38.4" y1="552.5" x2="-38.4" y2="533.6" stroke="#c9cdd0" stroke-width="2.4"/><line x1="-37.4" y1="553.3" x2="-37.4" y2="534.5" stroke="#2a2a2a" stroke-width="0.7"/><line x1="-39.4" y1="551.6" x2="-39.4" y2="532.8" stroke="#2a2a2a" stroke-width="0.7"/><line x1="-58.2" y1="555.9" x2="-58.2" y2="538.7" stroke="#c9cdd0" stroke-width="2.4"/><line x1="-57.2" y1="556.7" x2="-57.2" y2="539.5" stroke="#2a2a2a" stroke-width="0.7"/><line x1="-59.2" y1="555" x2="-59.2" y2="537.8" stroke="#2a2a2a" stroke-width="0.7"/><use href="#a1" x="-41.1" y="511.5"/><use href="#a1" x="-21.2" y="528.6"/><use href="#a1" x="-1.4" y="545.7"/><use href="#a1" x="18.5" y="562.8"/><use href="#a1" x="38.3" y="579.9"/><use href="#a1" x="58.1" y="597"/><use href="#a1" x="78" y="614.1"/><use href="#a1" x="97.8" y="631.2"/><use href="#a1" x="117.7" y="648.3"/><use href="#a1" x="137.5" y="665.4"/>
<polygon points="150.1,696 130.2,678.9 130.1,597 150,614.1" fill="#a0a4a8" stroke="#2a2a2a" stroke-width="0.7" stroke-linejoin="round"/><polygon points="150.1,696 700.2,536.3 700.1,454.4 150,614.1" fill="#adb1b4" stroke="#2a2a2a" stroke-width="0.7" stroke-linejoin="round"/><polygon points="150,614.1 700.1,454.4 680.3,437.3 130.1,597" fill="#a6aaad" stroke="#2a2a2a" stroke-width="0.7" stroke-linejoin="round"/><line x1="150" y1="655" x2="130.2" y2="637.9" stroke="#2a2a2a" stroke-width="0.7"/><line x1="287.6" y1="615.1" x2="287.5" y2="574.1" stroke="#2a2a2a" stroke-width="0.7"/><line x1="459.5" y1="565.2" x2="459.4" y2="524.2" stroke="#2a2a2a" stroke-width="0.7"/><line x1="562.6" y1="535.3" x2="562.6" y2="494.3" stroke="#2a2a2a" stroke-width="0.7"/><use href="#a3" x="673" y="450.8"/><use href="#a3" x="638.6" y="460.8"/><use href="#a3" x="604.3" y="470.8"/><use href="#a3" x="569.9" y="480.8"/><use href="#a3" x="535.5" y="490.7"/><use href="#a3" x="501.1" y="500.7"/><use href="#a3" x="466.7" y="510.7"/><use href="#a3" x="432.3" y="520.7"/><use href="#a3" x="397.9" y="530.7"/><use href="#a3" x="363.6" y="540.6"/><use href="#a3" x="329.2" y="550.6"/><use href="#a3" x="294.8" y="560.6"/><use href="#a3" x="260.4" y="570.6"/><use href="#a3" x="226" y="580.6"/><use href="#a3" x="191.6" y="590.5"/><use href="#a3" x="157.3" y="600.5"/>
<polygon points="705.5,539.5 665.8,505.3 665.7,464.4 705.4,498.6" fill="#a0a4a8" stroke="#2a2a2a" stroke-width="0.7" stroke-linejoin="round"/><polygon points="705.5,539.5 739.9,529.6 739.8,488.6 705.4,498.6" fill="#adb1b4" stroke="#2a2a2a" stroke-width="0.7" stroke-linejoin="round"/><polygon points="705.4,498.6 739.8,488.6 700.1,454.4 665.7,464.4" fill="#a6aaad" stroke="#2a2a2a" stroke-width="0.7" stroke-linejoin="round"/><use href="#a3" x="692.9" y="467.9"/><use href="#a3" x="712.7" y="485"/>
<polygon points="224.2,761.2 184.5,727 184.4,645.1 224.1,679.2" fill="#a0a4a8" stroke="#2a2a2a" stroke-width="0.7" stroke-linejoin="round"/><polygon points="224.2,761.2 705.6,621.5 705.5,539.5 224.1,679.2" fill="#adb1b4" stroke="#2a2a2a" stroke-width="0.7" stroke-linejoin="round"/><polygon points="224.1,679.2 705.5,539.5 665.8,505.3 184.4,645.1" fill="#a6aaad" stroke="#2a2a2a" stroke-width="0.7" stroke-linejoin="round"/>
<polygon points="444.9,592.3 425.1,575.2 425.1,534.2 444.9,551.3" fill="#a0a4a8" stroke="#2a2a2a" stroke-width="0.7" stroke-linejoin="round"/><polygon points="444.9,592.3 548.1,562.4 548.1,521.4 444.9,551.3" fill="#adb1b4" stroke="#2a2a2a" stroke-width="0.7" stroke-linejoin="round"/><polygon points="444.9,551.3 548.1,521.4 528.2,504.3 425.1,534.2" fill="#a6aaad" stroke="#2a2a2a" stroke-width="0.7" stroke-linejoin="round"/><use href="#a3" x="520.9" y="517.8"/><use href="#a3" x="486.6" y="527.8"/><use href="#a3" x="452.2" y="537.8"/>
<polygon points="189.8,771.2 150.1,737 150,655 189.7,689.2" fill="#a0a4a8" stroke="#2a2a2a" stroke-width="0.7" stroke-linejoin="round"/><polygon points="189.8,771.2 224.2,761.2 224.1,679.2 189.7,689.2" fill="#adb1b4" stroke="#2a2a2a" stroke-width="0.7" stroke-linejoin="round"/><polygon points="189.7,689.2 224.1,679.2 184.4,645.1 150,655" fill="#a6aaad" stroke="#2a2a2a" stroke-width="0.7" stroke-linejoin="round"/><line x1="189.8" y1="730.2" x2="150.1" y2="696" stroke="#2a2a2a" stroke-width="0.7"/><polygon points="164,725.1 164.1,723.2 164.4,721.5 165,720.2 165.7,719.3 166.6,718.8 167.6,718.8 168.8,719.1 169.9,719.9 171.1,721.1 172.2,722.7 173.2,724.5 174.1,726.6 174.9,728.8 175.4,731 175.8,733.2 175.9,735.3 175.8,737.2 175.4,738.8 174.9,740.1 174.2,741 173.3,741.5 172.2,741.6 171.1,741.2 169.9,740.4 168.8,739.2 167.7,737.7 166.6,735.8 165.7,733.8 165,731.6 164.4,729.4 164.1,727.1" fill="#b9bdc0" stroke="#222" stroke-width="0.8"/><polygon points="165.8,726.6 165.9,725.1 166.1,723.8 166.6,722.7 167.2,722 167.9,721.6 168.7,721.5 169.6,721.9 170.5,722.5 171.5,723.5 172.3,724.7 173.2,726.2 173.9,727.8 174.5,729.5 174.9,731.3 175.2,733.1 175.3,734.8 175.2,736.3 174.9,737.6 174.5,738.7 173.9,739.4 173.2,739.8 172.4,739.8 171.5,739.5 170.5,738.9 169.6,737.9 168.7,736.7 167.9,735.2 167.2,733.6 166.6,731.8 166.1,730 165.9,728.3" fill="#9a9ea1" stroke="#333" stroke-width="0.7"/><polygon points="167.8,728.3 167.8,727.2 168,726.2 168.4,725.4 168.8,724.9 169.3,724.6 170,724.5 170.6,724.7 171.3,725.2 172,725.9 172.7,726.9 173.3,728 173.8,729.2 174.3,730.5 174.6,731.9 174.8,733.2 174.9,734.5 174.8,735.6 174.6,736.6 174.3,737.3 173.9,737.9 173.3,738.2 172.7,738.2 172,738 171.3,737.5 170.6,736.8 170,735.9 169.3,734.8 168.8,733.5 168.4,732.2 168,730.9 167.8,729.6" fill="#c4c8cb" stroke="#555" stroke-width="0.5"/>
<polygon points="209.6,788.3 189.8,771.2 189.7,689.2 209.6,706.3" fill="#a0a4a8" stroke="#2a2a2a" stroke-width="0.7" stroke-linejoin="round"/><polygon points="209.6,788.3 759.8,628.6 759.7,546.6 209.6,706.3" fill="#adb1b4" stroke="#2a2a2a" stroke-width="0.7" stroke-linejoin="round"/><polygon points="209.6,706.3 759.7,546.6 739.9,529.6 189.7,689.2" fill="#a6aaad" stroke="#2a2a2a" stroke-width="0.7" stroke-linejoin="round"/><line x1="209.6" y1="747.3" x2="759.7" y2="587.6" stroke="#2a2a2a" stroke-width="0.7"/><line x1="209.6" y1="747.3" x2="189.8" y2="730.2" stroke="#2a2a2a" stroke-width="0.7"/><line x1="347.2" y1="748.4" x2="347.1" y2="707.4" stroke="#2a2a2a" stroke-width="0.7"/><line x1="450.3" y1="718.4" x2="450.3" y2="677.4" stroke="#2a2a2a" stroke-width="0.7"/><line x1="519.1" y1="698.5" x2="519.1" y2="657.5" stroke="#2a2a2a" stroke-width="0.7"/><line x1="622.3" y1="668.5" x2="622.2" y2="627.5" stroke="#2a2a2a" stroke-width="0.7"/><line x1="244" y1="737.3" x2="243.9" y2="696.3" stroke="#2a2a2a" stroke-width="0.7"/><line x1="381.5" y1="697.4" x2="381.5" y2="656.4" stroke="#2a2a2a" stroke-width="0.7"/><line x1="484.7" y1="667.5" x2="484.6" y2="626.5" stroke="#2a2a2a" stroke-width="0.7"/><line x1="587.8" y1="637.5" x2="587.8" y2="596.5" stroke="#2a2a2a" stroke-width="0.7"/><line x1="725.4" y1="597.6" x2="725.3" y2="556.6" stroke="#2a2a2a" stroke-width="0.7"/><polygon points="495,681.5 494.8,679.6 494.2,677.8 493.3,676.4 492,675.2 490.4,674.4 488.6,673.9 486.7,673.9 484.7,674.3 482.7,675.1 480.7,676.2 479,677.7 477.4,679.4 476.1,681.3 475.2,683.4 474.6,685.5 474.4,687.5 474.6,689.5 475.2,691.2 476.1,692.7 477.4,693.9 479,694.7 480.8,695.1 482.7,695.2 484.7,694.8 486.7,694 488.6,692.9 490.4,691.4 492,689.7 493.3,687.7 494.2,685.7 494.8,683.6" fill="#b9bdc0" stroke="#222" stroke-width="0.8"/><polygon points="493.6,681.9 493.5,680.4 493,679 492.2,677.8 491.2,676.8 490,676.2 488.5,675.8 487,675.8 485.4,676.1 483.8,676.8 482.2,677.7 480.8,678.8 479.5,680.2 478.5,681.8 477.8,683.4 477.3,685.1 477.1,686.7 477.3,688.3 477.8,689.7 478.5,690.9 479.5,691.8 480.8,692.5 482.2,692.8 483.8,692.8 485.4,692.5 487,691.9 488.5,691 490,689.8 491.2,688.4 492.2,686.9 493,685.3 493.5,683.6" fill="#a0a4a7" stroke="#333" stroke-width="0.7"/><polygon points="492.8,682.2 492.7,681 492.3,679.9 491.7,679 490.9,678.2 490,677.7 488.9,677.5 487.7,677.4 486.4,677.7 485.2,678.2 484,678.9 482.9,679.8 481.9,680.9 481.1,682 480.5,683.3 480.1,684.6 480,685.9 480.1,687.1 480.5,688.2 481.1,689.1 481.9,689.8 482.9,690.3 484,690.6 485.2,690.6 486.4,690.4 487.7,689.9 488.9,689.2 490,688.3 490.9,687.2 491.7,686 492.3,684.8 492.7,683.5" fill="#c4c8cb" stroke="#555" stroke-width="0.5"/><use href="#a3" x="732.6" y="543.1"/><use href="#a3" x="698.2" y="553.1"/><use href="#a3" x="663.8" y="563"/><use href="#a3" x="629.4" y="573"/><use href="#a3" x="595.1" y="583"/><use href="#a3" x="560.7" y="593"/><use href="#a3" x="526.3" y="603"/><use href="#a3" x="491.9" y="612.9"/><use href="#a3" x="457.5" y="622.9"/><use href="#a3" x="423.1" y="632.9"/><use href="#a3" x="388.7" y="642.9"/><use href="#a3" x="354.4" y="652.9"/><use href="#a3" x="320" y="662.8"/><use href="#a3" x="285.6" y="672.8"/><use href="#a3" x="251.2" y="682.8"/><use href="#a3" x="216.8" y="692.8"/><g id="n17"><polygon points="347.1,666.4 327.2,649.3 327.2,608.3 347,625.4" fill="#a0a4a8" stroke="#2a2a2a" stroke-width="0.7" stroke-linejoin="round"/><polygon points="347.1,666.4 759.7,546.6 759.7,505.7 347,625.4" fill="#adb1b4" stroke="#2a2a2a" stroke-width="0.7" stroke-linejoin="round"/><polygon points="347,625.4 759.7,505.7 739.8,488.6 327.2,608.3" fill="#a6aaad" stroke="#2a2a2a" stroke-width="0.7" stroke-linejoin="round"/><line x1="450.2" y1="636.5" x2="450.2" y2="595.5" stroke="#2a2a2a" stroke-width="0.7"/><line x1="553.4" y1="606.5" x2="553.4" y2="565.5" stroke="#2a2a2a" stroke-width="0.7"/><line x1="622.2" y1="586.6" x2="622.1" y2="545.6" stroke="#2a2a2a" stroke-width="0.7"/><use href="#a3" x="732.5" y="502.1"/><use href="#a3" x="698.2" y="512.1"/><use href="#a3" x="663.8" y="522.1"/><use href="#a3" x="629.4" y="532"/><use href="#a3" x="595" y="542"/><use href="#a3" x="560.6" y="552"/><use href="#a3" x="526.2" y="562"/><use href="#a3" x="491.9" y="572"/><use href="#a3" x="457.5" y="581.9"/><use href="#a3" x="423.1" y="591.9"/><use href="#a3" x="388.7" y="601.9"/><use href="#a3" x="354.3" y="611.9"/>
<polygon points="189.7,689.2 150,655 150,614.1 189.7,648.2" fill="#a0a4a8" stroke="#2a2a2a" stroke-width="0.7" stroke-linejoin="round"/><polygon points="189.7,689.2 224.1,679.2 224.1,638.3 189.7,648.2" fill="#adb1b4" stroke="#2a2a2a" stroke-width="0.7" stroke-linejoin="round"/><polygon points="189.7,648.2 224.1,638.3 184.4,604.1 150,614.1" fill="#a6aaad" stroke="#2a2a2a" stroke-width="0.7" stroke-linejoin="round"/><use href="#a3" x="177.1" y="617.6"/><use href="#a3" x="196.9" y="634.7"/>
<polygon points="209.6,706.3 189.7,689.2 189.7,648.2 209.5,665.3" fill="#a0a4a8" stroke="#2a2a2a" stroke-width="0.7" stroke-linejoin="round"/><polygon points="209.6,706.3 312.7,676.4 312.7,635.4 209.5,665.3" fill="#adb1b4" stroke="#2a2a2a" stroke-width="0.7" stroke-linejoin="round"/><polygon points="209.5,665.3 312.7,635.4 292.8,618.3 189.7,648.2" fill="#a6aaad" stroke="#2a2a2a" stroke-width="0.7" stroke-linejoin="round"/><use href="#a3" x="285.5" y="631.8"/><use href="#a3" x="251.2" y="641.8"/><use href="#a3" x="216.8" y="651.8"/>
<polygon points="312.6,537.7 292.7,520.6 292.7,479.7 312.5,496.7" fill="#a0a4a8" stroke="#2a2a2a" stroke-width="0.7" stroke-linejoin="round"/><polygon points="312.6,537.7 346.9,527.7 346.9,486.8 312.5,496.7" fill="#adb1b4" stroke="#2a2a2a" stroke-width="0.7" stroke-linejoin="round"/><polygon points="312.5,496.7 346.9,486.8 327.1,469.7 292.7,479.7" fill="#a6aaad" stroke="#2a2a2a" stroke-width="0.7" stroke-linejoin="round"/><use href="#a3" x="319.8" y="483.2"/>
<polygon points="340.4,508.5 340.2,506.5 339.6,504.7 338.6,503.1 337.3,501.9 335.6,501 333.8,500.6 331.8,500.6 329.7,501 327.6,501.8 325.6,503 323.8,504.5 322.2,506.3 320.9,508.3 319.9,510.4 319.3,512.5 319.1,514.7 319.3,516.7 319.9,518.5 320.9,520 322.2,521.2 323.8,522.1 325.7,522.5 327.7,522.5 329.7,522.1 331.8,521.3 333.8,520.2 335.7,518.6 337.3,516.9 338.6,514.9 339.6,512.8 340.2,510.6" fill="#0a0a0a" stroke="#0a0a0a" stroke-width="1"/>
<polygon points="342.4,510.2 342.2,508.2 341.6,506.4 340.6,504.8 339.2,503.6 337.6,502.7 335.8,502.3 333.8,502.3 331.7,502.7 329.6,503.5 327.6,504.7 325.8,506.2 324.2,508 322.8,510 321.9,512.1 321.3,514.2 321,516.4 321.3,518.4 321.9,520.2 322.9,521.7 324.2,522.9 325.8,523.8 327.6,524.2 329.6,524.3 331.7,523.9 333.8,523.1 335.8,521.9 337.6,520.4 339.3,518.6 340.6,516.6 341.6,514.5 342.2,512.3" fill="#0a0a0a" stroke="#0a0a0a" stroke-width="1"/>
<polygon points="344.4,511.9 344.1,509.9 343.5,508.1 342.5,506.5 341.2,505.3 339.6,504.5 337.8,504 335.8,504 333.7,504.4 331.6,505.2 329.6,506.4 327.8,507.9 326.1,509.7 324.8,511.7 323.8,513.8 323.2,515.9 323,518.1 323.2,520.1 323.8,521.9 324.8,523.4 326.2,524.7 327.8,525.5 329.6,525.9 331.6,526 333.7,525.6 335.8,524.8 337.8,523.6 339.6,522.1 341.2,520.3 342.6,518.3 343.5,516.2 344.1,514" fill="#b0b4b7" stroke="#0a0a0a" stroke-width="0.9"/>
<polygon points="340.6,513 340.4,511.7 340,510.5 339.4,509.5 338.5,508.7 337.5,508.2 336.3,507.9 335,507.9 333.7,508.2 332.3,508.7 331.1,509.4 329.9,510.4 328.8,511.6 328,512.8 327.3,514.2 326.9,515.6 326.8,517 326.9,518.3 327.3,519.4 328,520.4 328.8,521.2 329.9,521.8 331.1,522.1 332.4,522.1 333.7,521.8 335,521.3 336.3,520.5 337.5,519.6 338.6,518.4 339.4,517.1 340,515.7 340.4,514.4" fill="#8e9295" stroke="#222" stroke-width="0.6"/>
<polygon points="336.6,512.8 336.5,512 336.3,511.3 335.9,510.7 335.4,510.2 334.8,509.9 334.1,509.7 333.3,509.7 332.5,509.9 331.7,510.2 330.9,510.6 330.2,511.2 329.6,511.9 329.1,512.7 328.7,513.5 328.5,514.3 328.4,515.2 328.5,515.9 328.7,516.6 329.1,517.2 329.6,517.7 330.2,518 330.9,518.2 331.7,518.2 332.5,518.1 333.3,517.7 334.1,517.3 334.8,516.7 335.4,516 335.9,515.2 336.3,514.4 336.5,513.6" fill="#b8bcbf" stroke="#333" stroke-width="0.5"/></g><use href="#n17" filter="url(#ol)"/><rect x="317.9" y="541.5" width="3.8" height="72" fill="#0000ff"/><polygon points="308.6,610.2 331,610.2 319.8,629.4" fill="#0000ff"/></g>
<g clip-path="url(#c18)"><polygon points="1547.8,657.1 1129.2,448.8 1129.1,436.2 1547.7,644.5" fill="#a3a7ab" stroke="#2a2a2a" stroke-width="0.7" stroke-linejoin="round"/><polygon points="1547.8,657.1 1652.9,604.2 1652.8,591.6 1547.7,644.5" fill="#abafb3" stroke="#2a2a2a" stroke-width="0.7" stroke-linejoin="round"/><polygon points="1547.7,644.5 1652.8,591.6 1234.1,383.3 1129.1,436.2" fill="#a7abae" stroke="#2a2a2a" stroke-width="0.7" stroke-linejoin="round"/>
<polygon points="1626.5,604.8 1207.8,396.5 1206.9,283.8 1625.6,492.1" fill="#a3a7ab" stroke="#2a2a2a" stroke-width="0.7" stroke-linejoin="round"/><polygon points="1626.5,604.8 1652.8,591.6 1651.8,478.9 1625.6,492.1" fill="#abafb3" stroke="#2a2a2a" stroke-width="0.7" stroke-linejoin="round"/><polygon points="1625.6,492.1 1651.8,478.9 1233.2,270.6 1206.9,283.8" fill="#a7abae" stroke="#2a2a2a" stroke-width="0.7" stroke-linejoin="round"/><line x1="1625.9" y1="529.7" x2="1207.2" y2="321.4" stroke="#2a2a2a" stroke-width="0.7"/><line x1="1626.2" y1="567.3" x2="1652.5" y2="554" stroke="#2a2a2a" stroke-width="0.7"/><line x1="1625.9" y1="529.7" x2="1652.1" y2="516.4" stroke="#2a2a2a" stroke-width="0.7"/><line x1="1521.2" y1="477.6" x2="1520.9" y2="440" stroke="#2a2a2a" stroke-width="0.7"/><line x1="1468.9" y1="451.6" x2="1468.6" y2="414" stroke="#2a2a2a" stroke-width="0.7"/><line x1="1390.4" y1="412.5" x2="1390.1" y2="374.9" stroke="#2a2a2a" stroke-width="0.7"/><line x1="1311.9" y1="373.4" x2="1311.6" y2="335.9" stroke="#2a2a2a" stroke-width="0.7"/><use href="#b0" x="1233.1" y="283.7"/><use href="#b0" x="1259.3" y="296.7"/><use href="#b0" x="1285.4" y="309.7"/><use href="#b0" x="1311.6" y="322.7"/><use href="#b0" x="1337.8" y="335.8"/><use href="#b0" x="1363.9" y="348.8"/><use href="#b0" x="1390.1" y="361.8"/><use href="#b0" x="1416.3" y="374.8"/><use href="#b0" x="1442.4" y="387.8"/><use href="#b0" x="1468.6" y="400.9"/><use href="#b0" x="1494.8" y="413.9"/><use href="#b0" x="1520.9" y="426.9"/><use href="#b0" x="1547.1" y="439.9"/><use href="#b0" x="1573.3" y="452.9"/><use href="#b0" x="1599.4" y="465.9"/><use href="#b0" x="1625.6" y="479"/>
<polygon points="1181.5,436 1155.3,423 1154.4,310.2 1180.6,323.3" fill="#a3a7ab" stroke="#2a2a2a" stroke-width="0.7" stroke-linejoin="round"/><polygon points="1181.5,436 1234,409.6 1233.1,296.8 1180.6,323.3" fill="#abafb3" stroke="#2a2a2a" stroke-width="0.7" stroke-linejoin="round"/><polygon points="1180.6,323.3 1233.1,296.8 1206.9,283.8 1154.4,310.2" fill="#a7abae" stroke="#2a2a2a" stroke-width="0.7" stroke-linejoin="round"/><use href="#b0" x="1206.9" y="296.9"/><use href="#b0" x="1180.6" y="310.1"/>
<polygon points="892.8,594 866.6,581 866.5,568.5 892.7,581.5" fill="#a79b82" stroke="#2a2a2a" stroke-width="0.7" stroke-linejoin="round"/><polygon points="892.8,594 1155.3,461.8 1155.2,449.2 892.7,581.5" fill="#a99c83" stroke="#2a2a2a" stroke-width="0.7" stroke-linejoin="round"/><polygon points="892.7,581.5 1155.2,449.2 1129.1,436.2 866.5,568.5" fill="#998d74" stroke="#2a2a2a" stroke-width="0.7" stroke-linejoin="round"/>
<polygon points="1050.2,540.9 1024,527.9 1023.9,515.4 1050.1,528.4" fill="#a79b82" stroke="#2a2a2a" stroke-width="0.7" stroke-linejoin="round"/><polygon points="1050.2,540.9 1155.2,488 1155.1,475.5 1050.1,528.4" fill="#a99c83" stroke="#2a2a2a" stroke-width="0.7" stroke-linejoin="round"/><polygon points="1050.1,528.4 1155.1,475.5 1129,462.5 1023.9,515.4" fill="#998d74" stroke="#2a2a2a" stroke-width="0.7" stroke-linejoin="round"/><use href="#b1" x="1102.7" y="488.8"/><use href="#b1" x="1076.4" y="502"/><use href="#b1" x="1050.2" y="515.3"/>
<polygon points="1547.8,618.3 1181.5,436 1180.9,360.8 1547.2,543.1" fill="#a3a7ab" stroke="#2a2a2a" stroke-width="0.7" stroke-linejoin="round"/><polygon points="1547.8,618.3 1600.3,591.8 1599.7,516.7 1547.2,543.1" fill="#abafb3" stroke="#2a2a2a" stroke-width="0.7" stroke-linejoin="round"/><polygon points="1547.2,543.1 1599.7,516.7 1233.4,334.4 1180.9,360.8" fill="#a7abae" stroke="#2a2a2a" stroke-width="0.7" stroke-linejoin="round"/>
<polygon points="1364,452 1285.5,412.9 1285.2,375.3 1363.7,414.4" fill="#a3a7ab" stroke="#2a2a2a" stroke-width="0.7" stroke-linejoin="round"/><polygon points="1364,452 1390.3,438.7 1390,401.2 1363.7,414.4" fill="#abafb3" stroke="#2a2a2a" stroke-width="0.7" stroke-linejoin="round"/><polygon points="1363.7,414.4 1390,401.2 1311.5,362.1 1285.2,375.3" fill="#a7abae" stroke="#2a2a2a" stroke-width="0.7" stroke-linejoin="round"/><use href="#b0" x="1311.4" y="375.2"/><use href="#b0" x="1337.6" y="388.2"/><use href="#b0" x="1363.8" y="401.3"/>
<polygon points="1285.8,631.8 1259.6,618.8 1259.5,606.3 1285.7,619.3" fill="#a79b82" stroke="#2a2a2a" stroke-width="0.7" stroke-linejoin="round"/><polygon points="1285.8,631.8 1364.6,592.2 1364.5,579.6 1285.7,619.3" fill="#a99c83" stroke="#2a2a2a" stroke-width="0.7" stroke-linejoin="round"/><polygon points="1285.7,619.3 1364.5,579.6 1338.3,566.6 1259.5,606.3" fill="#998d74" stroke="#2a2a2a" stroke-width="0.7" stroke-linejoin="round"/>
<polygon points="1479.7,639 1427.4,612.9 1427.3,600.4 1479.6,626.4" fill="#a3a7ab" stroke="#2a2a2a" stroke-width="0.7" stroke-linejoin="round"/><polygon points="1479.7,639 1495.5,631 1495.4,618.5 1479.6,626.4" fill="#abafb3" stroke="#2a2a2a" stroke-width="0.7" stroke-linejoin="round"/><polygon points="1479.6,626.4 1495.4,618.5 1443.1,592.5 1427.3,600.4" fill="#a7abae" stroke="#2a2a2a" stroke-width="0.7" stroke-linejoin="round"/>
<polygon points="1574,631.3 1547.8,618.3 1546.9,505.5 1573.1,518.5" fill="#a3a7ab" stroke="#2a2a2a" stroke-width="0.7" stroke-linejoin="round"/><polygon points="1574,631.3 1626.5,604.8 1625.6,492.1 1573.1,518.5" fill="#abafb3" stroke="#2a2a2a" stroke-width="0.7" stroke-linejoin="round"/><polygon points="1573.1,518.5 1625.6,492.1 1599.4,479.1 1546.9,505.5" fill="#a7abae" stroke="#2a2a2a" stroke-width="0.7" stroke-linejoin="round"/><line x1="1573.7" y1="593.7" x2="1626.2" y2="567.3" stroke="#2a2a2a" stroke-width="0.7"/><line x1="1573.4" y1="556.1" x2="1625.9" y2="529.7" stroke="#2a2a2a" stroke-width="0.7"/><use href="#b0" x="1599.4" y="492.2"/><use href="#b0" x="1573.1" y="505.4"/>
<polygon points="1547.7,644.5 1129.1,436.2 1128.1,323.5 1546.8,531.8" fill="#a3a7ab" stroke="#2a2a2a" stroke-width="0.7" stroke-linejoin="round"/><polygon points="1547.7,644.5 1574,631.3 1573.1,518.5 1546.8,531.8" fill="#abafb3" stroke="#2a2a2a" stroke-width="0.7" stroke-linejoin="round"/><polygon points="1546.8,531.8 1573.1,518.5 1154.4,310.2 1128.1,323.5" fill="#a7abae" stroke="#2a2a2a" stroke-width="0.7" stroke-linejoin="round"/><line x1="1547.4" y1="606.9" x2="1128.8" y2="398.6" stroke="#2a2a2a" stroke-width="0.7"/><line x1="1547.1" y1="569.4" x2="1128.4" y2="361" stroke="#2a2a2a" stroke-width="0.7"/><line x1="1547.4" y1="606.9" x2="1573.7" y2="593.7" stroke="#2a2a2a" stroke-width="0.7"/><line x1="1547.1" y1="569.4" x2="1573.4" y2="556.1" stroke="#2a2a2a" stroke-width="0.7"/><line x1="1547.4" y1="599.4" x2="1128.7" y2="391.1" stroke="#333" stroke-width="0.7"/><line x1="1547.3" y1="594.4" x2="1128.6" y2="386.1" stroke="#333" stroke-width="0.7"/><line x1="1494.8" y1="543.3" x2="1494.5" y2="505.7" stroke="#2a2a2a" stroke-width="0.7"/><line x1="1390.1" y1="491.2" x2="1389.8" y2="453.7" stroke="#2a2a2a" stroke-width="0.7"/><line x1="1442.8" y1="554.9" x2="1442.4" y2="517.3" stroke="#2a2a2a" stroke-width="0.7"/><line x1="1233.4" y1="450.7" x2="1233.1" y2="413.1" stroke="#2a2a2a" stroke-width="0.7"/><line x1="1154.9" y1="411.7" x2="1154.6" y2="374.1" stroke="#2a2a2a" stroke-width="0.7"/><use href="#b0" x="1154.3" y="323.4"/><use href="#b0" x="1180.5" y="336.4"/><use href="#b0" x="1206.7" y="349.4"/><use href="#b0" x="1232.8" y="362.4"/><use href="#b0" x="1259" y="375.4"/><use href="#b0" x="1285.2" y="388.5"/><use href="#b0" x="1311.3" y="401.5"/><use href="#b0" x="1337.5" y="414.5"/><use href="#b0" x="1363.7" y="427.5"/><use href="#b0" x="1389.8" y="440.5"/><use href="#b0" x="1416" y="453.5"/><use href="#b0" x="1442.2" y="466.6"/><use href="#b0" x="1468.3" y="479.6"/><use href="#b0" x="1494.5" y="492.6"/><use href="#b0" x="1520.7" y="505.6"/><use href="#b0" x="1546.8" y="518.6"/>
<polygon points="892.7,581.5 866.5,568.5 866.2,530.9 892.3,543.9" fill="#b3b7bc" stroke="#2a2a2a" stroke-width="0.7" stroke-linejoin="round"/><polygon points="892.7,581.5 1155.2,449.2 1154.9,411.7 892.3,543.9" fill="#b9bdc2" stroke="#2a2a2a" stroke-width="0.7" stroke-linejoin="round"/><polygon points="892.3,543.9 1154.9,411.7 1128.8,398.6 866.2,530.9" fill="#b4b8bc" stroke="#2a2a2a" stroke-width="0.7" stroke-linejoin="round"/><line x1="892.6" y1="569" x2="1155.1" y2="436.7" stroke="#333" stroke-width="0.7"/><line x1="892.5" y1="565.2" x2="1155.1" y2="433" stroke="#333" stroke-width="0.7"/><line x1="892.4" y1="552.7" x2="1155" y2="420.4" stroke="#333" stroke-width="0.7"/>
<polygon points="1312.1,579.8 1102.7,475.7 1102.5,450.6 1311.8,554.8" fill="#5e2006" stroke="#2a2a2a" stroke-width="0.7" stroke-linejoin="round"/><polygon points="1312.1,579.8 1364.6,553.4 1364.4,528.3 1311.8,554.8" fill="#5a1c03" stroke="#2a2a2a" stroke-width="0.7" stroke-linejoin="round"/><polygon points="1311.8,554.8 1364.4,528.3 1155,424.2 1102.5,450.6" fill="#581b02" stroke="#2a2a2a" stroke-width="0.7" stroke-linejoin="round"/><use href="#b2" x="1128.7" y="450.5"/><use href="#b2" x="1233.4" y="502.6"/><use href="#b2" x="1338.1" y="528.4"/><use href="#b2" x="1311.9" y="541.7"/>
<polygon points="1233.4,489.5 1128.8,437.4 1128.6,414.9 1233.2,466.9" fill="#a3a7ab" stroke="#2a2a2a" stroke-width="0.7" stroke-linejoin="round"/><polygon points="1233.4,489.5 1259.7,476.3 1259.5,453.7 1233.2,466.9" fill="#abafb3" stroke="#2a2a2a" stroke-width="0.7" stroke-linejoin="round"/><polygon points="1233.2,466.9 1259.5,453.7 1154.8,401.6 1128.6,414.9" fill="#a7abae" stroke="#2a2a2a" stroke-width="0.7" stroke-linejoin="round"/>
<polygon points="1181,489.7 1128.7,463.7 1128.6,451.1 1180.9,477.2" fill="#5e2006" stroke="#2a2a2a" stroke-width="0.7" stroke-linejoin="round"/><polygon points="1181,489.7 1207.3,476.5 1207.2,463.9 1180.9,477.2" fill="#5a1c03" stroke="#2a2a2a" stroke-width="0.7" stroke-linejoin="round"/><polygon points="1180.9,477.2 1207.2,463.9 1154.8,437.9 1128.6,451.1" fill="#581b02" stroke="#2a2a2a" stroke-width="0.7" stroke-linejoin="round"/>
<polygon points="1207.2,502.7 1181,489.7 1180.9,477.2 1207.1,490.2" fill="#5e2006" stroke="#2a2a2a" stroke-width="0.7" stroke-linejoin="round"/><polygon points="1207.2,502.7 1233.4,489.5 1233.3,477 1207.1,490.2" fill="#5a1c03" stroke="#2a2a2a" stroke-width="0.7" stroke-linejoin="round"/><polygon points="1207.1,490.2 1233.3,477 1207.2,463.9 1180.9,477.2" fill="#581b02" stroke="#2a2a2a" stroke-width="0.7" stroke-linejoin="round"/>
<polygon points="1311.9,528.5 1233.4,489.5 1232.7,401.8 1311.2,440.8" fill="#a3a7ab" stroke="#2a2a2a" stroke-width="0.7" stroke-linejoin="round"/><polygon points="1311.9,528.5 1338.2,515.3 1337.5,427.6 1311.2,440.8" fill="#abafb3" stroke="#2a2a2a" stroke-width="0.7" stroke-linejoin="round"/><polygon points="1311.2,440.8 1337.5,427.6 1259,388.6 1232.7,401.8" fill="#a7abae" stroke="#2a2a2a" stroke-width="0.7" stroke-linejoin="round"/><line x1="1311.8" y1="516" x2="1338.1" y2="502.8" stroke="#2a2a2a" stroke-width="0.7"/><line x1="1311.5" y1="478.4" x2="1337.8" y2="465.2" stroke="#2a2a2a" stroke-width="0.7"/><line x1="1311.5" y1="478.4" x2="1233" y2="439.4" stroke="#2a2a2a" stroke-width="0.7"/><polygon points="1259.1,502.2 1258.6,442.7 1259,438.6 1260.2,435.1 1262.2,432.6 1264.7,431.2 1267.8,431 1271,432.1 1274.3,434.3 1277.3,437.5 1279.9,441.4 1281.9,445.9 1283.2,450.6 1283.7,455.2 1284.2,514.7" fill="#a5a9ad" stroke="#222" stroke-width="0.8"/><clipPath id="archc"><polygon points="1259.1,502.2 1258.6,442.7 1259,438.6 1260.2,435.1 1262.2,432.6 1264.7,431.2 1267.8,431 1271,432.1 1274.3,434.3 1277.3,437.5 1279.9,441.4 1281.9,445.9 1283.2,450.6 1283.7,455.2 1284.2,514.7"/></clipPath><polyline clip-path="url(#archc)" points="1267.5,498 1267,438.5 1267.4,434.3 1268.6,430.9 1270.6,428.4 1273.1,427 1276.2,426.8 1279.4,427.8 1282.7,430 1285.7,433.2" fill="none" stroke="#333" stroke-width="0.7"/><polygon points="1259,491 1258.8,474.7 1266.7,473.2 1274.7,490.9" fill="#4a1702"/><line x1="1256.6" y1="451.1" x2="1264.4" y2="447.1" stroke="#222" stroke-width="0.9"/><line x1="1256.8" y1="476.1" x2="1264.7" y2="472.2" stroke="#222" stroke-width="0.9"/><line x1="1233.2" y1="459.4" x2="1256.2" y2="470.9" stroke="#2a2a2a" stroke-width="0.6"/><line x1="1311.7" y1="498.5" x2="1337.9" y2="485.2" stroke="#2a2a2a" stroke-width="0.6"/><line x1="1233.2" y1="456.7" x2="1256.2" y2="468.1" stroke="#2a2a2a" stroke-width="0.6"/><line x1="1311.7" y1="495.7" x2="1337.9" y2="482.5" stroke="#2a2a2a" stroke-width="0.6"/><line x1="1311.8" y1="506.6" x2="1338" y2="493.4" stroke="#2a2a2a" stroke-width="0.6"/><line x1="1324" y1="489.5" x2="1323.9" y2="472.2" stroke="#2a2a2a" stroke-width="0.6"/><line x1="1326.1" y1="488.4" x2="1326" y2="471.2" stroke="#2a2a2a" stroke-width="0.6"/><line x1="1244.9" y1="462.5" x2="1244.8" y2="445.2" stroke="#2a2a2a" stroke-width="0.6"/><use href="#b0" x="1258.9" y="401.7"/><use href="#b0" x="1285.1" y="414.7"/><use href="#b0" x="1311.2" y="427.7"/>
<polygon points="1233.4,497.4 1235.2,506.7 1235.1,496.6 1233.3,487.3" fill="#64655f" stroke="#2a2a2a" stroke-width="0.7" stroke-linejoin="round"/><polygon points="1235.2,506.7 1245.9,514.6 1245.8,504.6 1235.1,496.6" fill="#61625c" stroke="#61625c" stroke-width="0.5"/><polyline points="1235.2,506.7 1245.9,514.6" fill="none" stroke="#2a2a2a" stroke-width="0.7"/><polyline points="1245.8,504.6 1235.1,496.6" fill="none" stroke="#2a2a2a" stroke-width="0.7"/><polygon points="1245.9,514.6 1260.1,521.7 1260,511.6 1245.8,504.6" fill="#5f605a" stroke="#5f605a" stroke-width="0.5"/><polyline points="1245.9,514.6 1260.1,521.7" fill="none" stroke="#2a2a2a" stroke-width="0.7"/><polyline points="1260,511.6 1245.8,504.6" fill="none" stroke="#2a2a2a" stroke-width="0.7"/><polygon points="1260.1,521.7 1273.9,526.7 1273.8,516.7 1260,511.6" fill="#60615b" stroke="#60615b" stroke-width="0.5"/><polyline points="1260.1,521.7 1273.9,526.7" fill="none" stroke="#2a2a2a" stroke-width="0.7"/><polyline points="1273.8,516.7 1260,511.6" fill="none" stroke="#2a2a2a" stroke-width="0.7"/><polygon points="1273.9,526.7 1287,529.3 1286.9,519.3 1273.8,516.7" fill="#62635d" stroke="#62635d" stroke-width="0.5"/><polyline points="1273.9,526.7 1287,529.3" fill="none" stroke="#2a2a2a" stroke-width="0.7"/><polyline points="1286.9,519.3 1273.8,516.7" fill="none" stroke="#2a2a2a" stroke-width="0.7"/><polygon points="1300.1,529.2 1311.9,528.5 1311.8,518.5 1300.1,519.2" fill="#656660" stroke="#656660" stroke-width="0.5"/><polyline points="1300.1,529.2 1311.9,528.5" fill="none" stroke="#2a2a2a" stroke-width="0.7"/><polyline points="1311.8,518.5 1300.1,519.2" fill="none" stroke="#2a2a2a" stroke-width="0.7"/><polygon points="1287,529.3 1300.1,529.2 1300.1,519.2 1286.9,519.3" fill="#65665f" stroke="#65665f" stroke-width="0.5"/><polyline points="1287,529.3 1300.1,529.2" fill="none" stroke="#2a2a2a" stroke-width="0.7"/><polyline points="1300.1,519.2 1286.9,519.3" fill="none" stroke="#2a2a2a" stroke-width="0.7"/><polygon points="1233.3,479.5 1233.3,487.3 1235.1,496.6 1245.8,504.6 1260,511.6 1273.8,516.7 1286.9,519.3 1300.1,519.2 1311.8,518.5" fill="#73746c" stroke="#2a2a2a" stroke-width="0.7" stroke-linejoin="round"/>
<polygon points="1102.3,568.1 997.6,516.1 997.5,503.5 1102.1,555.6" fill="#5e2006" stroke="#2a2a2a" stroke-width="0.7" stroke-linejoin="round"/><polygon points="1102.3,568.1 1128.5,554.9 1128.4,542.4 1102.1,555.6" fill="#5a1c03" stroke="#2a2a2a" stroke-width="0.7" stroke-linejoin="round"/><polygon points="1102.1,555.6 1128.4,542.4 1023.7,490.3 997.5,503.5" fill="#581b02" stroke="#2a2a2a" stroke-width="0.7" stroke-linejoin="round"/><use href="#b2" x="1023.7" y="503.4"/><use href="#b2" x="1049.9" y="516.5"/><use href="#b2" x="1076" y="529.5"/><use href="#b2" x="1102.2" y="542.5"/>
<polygon points="1338.2,592.9 1312.1,579.8 1311.8,554.8 1338,567.8" fill="#5e2006" stroke="#2a2a2a" stroke-width="0.7" stroke-linejoin="round"/><polygon points="1338.2,592.9 1364.5,579.6 1364.3,554.6 1338,567.8" fill="#5a1c03" stroke="#2a2a2a" stroke-width="0.7" stroke-linejoin="round"/><polygon points="1338,567.8 1364.3,554.6 1338.1,541.6 1311.8,554.8" fill="#581b02" stroke="#2a2a2a" stroke-width="0.7" stroke-linejoin="round"/>
<polygon points="1285.7,619.3 1154.9,554.2 1154.7,529.2 1285.5,594.3" fill="#5e2006" stroke="#2a2a2a" stroke-width="0.7" stroke-linejoin="round"/><polygon points="1285.7,619.3 1338.2,592.9 1338,567.8 1285.5,594.3" fill="#5a1c03" stroke="#2a2a2a" stroke-width="0.7" stroke-linejoin="round"/><polygon points="1285.5,594.3 1338,567.8 1207.2,502.7 1154.7,529.2" fill="#581b02" stroke="#2a2a2a" stroke-width="0.7" stroke-linejoin="round"/><use href="#b2" x="1207.1" y="515.8"/><use href="#b2" x="1180.9" y="529.1"/><use href="#b2" x="1233.3" y="528.9"/><use href="#b2" x="1207" y="542.1"/><use href="#b2" x="1259.5" y="541.9"/><use href="#b2" x="1233.2" y="555.1"/><use href="#b2" x="1285.6" y="554.9"/><use href="#b2" x="1259.4" y="568.1"/><use href="#b2" x="1311.8" y="567.9"/><use href="#b2" x="1285.5" y="581.1"/>
<polygon points="1390.3,593.8 1311.8,554.8 1311.7,542.3 1390.2,581.3" fill="#5e2006" stroke="#2a2a2a" stroke-width="0.7" stroke-linejoin="round"/><polygon points="1390.3,593.8 1442.9,567.4 1442.8,554.9 1390.2,581.3" fill="#5a1c03" stroke="#2a2a2a" stroke-width="0.7" stroke-linejoin="round"/><polygon points="1390.2,581.3 1442.8,554.9 1364.3,515.8 1311.7,542.3" fill="#581b02" stroke="#2a2a2a" stroke-width="0.7" stroke-linejoin="round"/>
<polygon points="1469.1,658 1442.9,644.9 1442.6,607.4 1468.7,620.4" fill="#5e2006" stroke="#2a2a2a" stroke-width="0.7" stroke-linejoin="round"/><polygon points="1469.1,658 1521.6,631.5 1521.3,593.9 1468.7,620.4" fill="#5a1c03" stroke="#2a2a2a" stroke-width="0.7" stroke-linejoin="round"/><polygon points="1468.7,620.4 1521.3,593.9 1495.1,580.9 1442.6,607.4" fill="#581b02" stroke="#2a2a2a" stroke-width="0.7" stroke-linejoin="round"/>
<polygon points="1128.3,711.2 1102.1,698.2 1102,685.7 1128.2,698.7" fill="#a79b82" stroke="#2a2a2a" stroke-width="0.7" stroke-linejoin="round"/><polygon points="1128.3,711.2 1256.9,646.4 1256.8,633.9 1128.2,698.7" fill="#a99c83" stroke="#2a2a2a" stroke-width="0.7" stroke-linejoin="round"/><polygon points="1128.2,698.7 1256.8,633.9 1230.7,620.8 1102,685.7" fill="#998d74" stroke="#2a2a2a" stroke-width="0.7" stroke-linejoin="round"/>
<polygon points="1363.9,698.3 1102.3,568.1 1102.1,555.6 1363.8,685.8" fill="#5e2006" stroke="#2a2a2a" stroke-width="0.7" stroke-linejoin="round"/><polygon points="1363.9,698.3 1416.4,671.9 1416.3,659.4 1363.8,685.8" fill="#5a1c03" stroke="#2a2a2a" stroke-width="0.7" stroke-linejoin="round"/><polygon points="1363.8,685.8 1416.3,659.4 1154.7,529.2 1102.1,555.6" fill="#581b02" stroke="#2a2a2a" stroke-width="0.7" stroke-linejoin="round"/><use href="#b2" x="1154.6" y="542.3"/><use href="#b2" x="1128.4" y="555.5"/><use href="#b2" x="1180.8" y="555.3"/><use href="#b2" x="1154.5" y="568.5"/><use href="#b2" x="1207" y="568.3"/><use href="#b2" x="1180.7" y="581.6"/><use href="#b2" x="1233.1" y="581.3"/><use href="#b2" x="1206.9" y="594.6"/><use href="#b2" x="1259.3" y="594.4"/><use href="#b2" x="1233" y="607.6"/><use href="#b2" x="1285.5" y="607.4"/><use href="#b2" x="1259.2" y="620.6"/><use href="#b2" x="1311.6" y="620.4"/><use href="#b2" x="1285.4" y="633.6"/><use href="#b2" x="1337.8" y="633.4"/><use href="#b2" x="1311.5" y="646.6"/><use href="#b2" x="1364" y="646.4"/><use href="#b2" x="1337.7" y="659.7"/><use href="#b2" x="1390.1" y="659.5"/><use href="#b2" x="1363.9" y="672.7"/>
<polygon points="1101.9,673.1 892.6,569 892.5,556.4 1101.8,660.6" fill="#5e2006" stroke="#2a2a2a" stroke-width="0.7" stroke-linejoin="round"/><polygon points="1101.9,673.1 1206.9,620.2 1206.8,607.7 1101.8,660.6" fill="#5a1c03" stroke="#2a2a2a" stroke-width="0.7" stroke-linejoin="round"/><polygon points="1101.8,660.6 1206.8,607.7 997.5,503.5 892.5,556.4" fill="#581b02" stroke="#2a2a2a" stroke-width="0.7" stroke-linejoin="round"/><use href="#b2" x="997.4" y="516.7"/><use href="#b2" x="971.2" y="529.9"/><use href="#b2" x="944.9" y="543.1"/><use href="#b2" x="1023.6" y="529.7"/><use href="#b2" x="997.3" y="542.9"/><use href="#b2" x="971.1" y="556.1"/><use href="#b2" x="1049.8" y="542.7"/><use href="#b2" x="1023.5" y="555.9"/><use href="#b2" x="997.3" y="569.2"/><use href="#b2" x="1075.9" y="555.7"/><use href="#b2" x="1049.7" y="568.9"/><use href="#b2" x="1023.4" y="582.2"/><use href="#b2" x="997.2" y="595.4"/><use href="#b2" x="1102.1" y="568.7"/><use href="#b2" x="1075.8" y="582"/><use href="#b2" x="1049.6" y="595.2"/><use href="#b2" x="1128.3" y="581.8"/><use href="#b2" x="1102" y="595"/><use href="#b2" x="1075.8" y="608.2"/><use href="#b2" x="1154.4" y="594.8"/><use href="#b2" x="1128.2" y="608"/><use href="#b2" x="1101.9" y="621.2"/><use href="#b2" x="1180.6" y="607.8"/><use href="#b2" x="1154.3" y="621"/><use href="#b2" x="1128.1" y="634.2"/><use href="#b2" x="1101.8" y="647.5"/>
<polygon points="918.6,569.5 892.5,556.4 892.3,543.9 918.5,556.9" fill="#5e2006" stroke="#2a2a2a" stroke-width="0.7" stroke-linejoin="round"/><polygon points="918.6,569.5 944.9,556.2 944.8,543.7 918.5,556.9" fill="#5a1c03" stroke="#2a2a2a" stroke-width="0.7" stroke-linejoin="round"/><polygon points="918.5,556.9 944.8,543.7 918.6,530.7 892.3,543.9" fill="#581b02" stroke="#2a2a2a" stroke-width="0.7" stroke-linejoin="round"/><use href="#b2" x="918.6" y="543.8"/>
<polygon points="971,595.5 918.6,569.5 918.5,556.9 970.8,583" fill="#5e2006" stroke="#2a2a2a" stroke-width="0.7" stroke-linejoin="round"/><polygon points="971,595.5 997.2,582.3 997.1,569.7 970.8,583" fill="#5a1c03" stroke="#2a2a2a" stroke-width="0.7" stroke-linejoin="round"/><polygon points="970.8,583 997.1,569.7 944.8,543.7 918.5,556.9" fill="#581b02" stroke="#2a2a2a" stroke-width="0.7" stroke-linejoin="round"/>
<polygon points="1075.6,647.6 997.1,608.5 997,596 1075.5,635" fill="#5e2006" stroke="#2a2a2a" stroke-width="0.7" stroke-linejoin="round"/><polygon points="1075.6,647.6 1101.9,634.4 1101.8,621.8 1075.5,635" fill="#5a1c03" stroke="#2a2a2a" stroke-width="0.7" stroke-linejoin="round"/><polygon points="1075.5,635 1101.8,621.8 1023.3,582.8 997,596" fill="#581b02" stroke="#2a2a2a" stroke-width="0.7" stroke-linejoin="round"/>
<polygon points="1128.2,698.7 1102,685.7 1101.9,673.1 1128.1,686.1" fill="#5e2006" stroke="#2a2a2a" stroke-width="0.7" stroke-linejoin="round"/><polygon points="1128.2,698.7 1233.2,645.8 1233.1,633.2 1128.1,686.1" fill="#5a1c03" stroke="#2a2a2a" stroke-width="0.7" stroke-linejoin="round"/><polygon points="1128.1,686.1 1233.1,633.2 1206.9,620.2 1101.9,673.1" fill="#581b02" stroke="#2a2a2a" stroke-width="0.7" stroke-linejoin="round"/>
<polygon points="1285.3,789.3 1259.1,776.3 1259,763.8 1285.2,776.8" fill="#a79b82" stroke="#2a2a2a" stroke-width="0.7" stroke-linejoin="round"/><polygon points="1285.3,789.3 1547.8,657.1 1547.7,644.5 1285.2,776.8" fill="#a99c83" stroke="#2a2a2a" stroke-width="0.7" stroke-linejoin="round"/><polygon points="1285.2,776.8 1547.7,644.5 1521.6,631.5 1259,763.8" fill="#998d74" stroke="#2a2a2a" stroke-width="0.7" stroke-linejoin="round"/>
<polygon points="823,633.7 824.2,643.4 824.1,630.8 822.9,621.1" fill="#a89c83" stroke="#a89c83" stroke-width="0.5"/><polyline points="823,633.7 824.2,643.4" fill="none" stroke="#2a2a2a" stroke-width="0.7"/><polyline points="824.1,630.8 822.9,621.1" fill="none" stroke="#2a2a2a" stroke-width="0.7"/><polygon points="824.2,643.4 828,652.9 827.9,640.3 824.1,630.8" fill="#a89c83" stroke="#a89c83" stroke-width="0.5"/><polyline points="824.2,643.4 828,652.9" fill="none" stroke="#2a2a2a" stroke-width="0.7"/><polyline points="827.9,640.3 824.1,630.8" fill="none" stroke="#2a2a2a" stroke-width="0.7"/><polygon points="828,652.9 834.2,662 834.1,649.5 827.9,640.3" fill="#a89c83" stroke="#a89c83" stroke-width="0.5"/><polyline points="828,652.9 834.2,662" fill="none" stroke="#2a2a2a" stroke-width="0.7"/><polyline points="834.1,649.5 827.9,640.3" fill="none" stroke="#2a2a2a" stroke-width="0.7"/><polygon points="834.2,662 842.7,670.7 842.6,658.2 834.1,649.5" fill="#a89c83" stroke="#a89c83" stroke-width="0.5"/><polyline points="834.2,662 842.7,670.7" fill="none" stroke="#2a2a2a" stroke-width="0.7"/><polyline points="842.6,658.2 834.1,649.5" fill="none" stroke="#2a2a2a" stroke-width="0.7"/><polygon points="842.7,670.7 853.5,678.7 853.4,666.2 842.6,658.2" fill="#a89c83" stroke="#a89c83" stroke-width="0.5"/><polyline points="842.7,670.7 853.5,678.7" fill="none" stroke="#2a2a2a" stroke-width="0.7"/><polyline points="853.4,666.2 842.6,658.2" fill="none" stroke="#2a2a2a" stroke-width="0.7"/><polygon points="853.5,678.7 866.2,686 866.1,673.5 853.4,666.2" fill="#a89c83" stroke="#a89c83" stroke-width="0.5"/><polyline points="853.5,678.7 866.2,686" fill="none" stroke="#2a2a2a" stroke-width="0.7"/><polyline points="866.1,673.5 853.4,666.2" fill="none" stroke="#2a2a2a" stroke-width="0.7"/><polygon points="866.2,686 1075.6,790.1 1075.5,777.6 866.1,673.5" fill="#a89c83" stroke="#2a2a2a" stroke-width="0.7" stroke-linejoin="round"/><polygon points="1075.6,790.1 1090.1,796.5 1090,784 1075.5,777.6" fill="#a89c83" stroke="#a89c83" stroke-width="0.5"/><polyline points="1075.6,790.1 1090.1,796.5" fill="none" stroke="#2a2a2a" stroke-width="0.7"/><polyline points="1090,784 1075.5,777.6" fill="none" stroke="#2a2a2a" stroke-width="0.7"/><polygon points="1270.7,795.8 1285.3,789.3 1285.2,776.8 1270.6,783.2" fill="#a89c83" stroke="#a89c83" stroke-width="0.5"/><polyline points="1270.7,795.8 1285.3,789.3" fill="none" stroke="#2a2a2a" stroke-width="0.7"/><polyline points="1285.2,776.8 1270.6,783.2" fill="none" stroke="#2a2a2a" stroke-width="0.7"/><polygon points="1090.1,796.5 1106.2,801.8 1106.1,789.3 1090,784" fill="#a89c83" stroke="#a89c83" stroke-width="0.5"/><polyline points="1090.1,796.5 1106.2,801.8" fill="none" stroke="#2a2a2a" stroke-width="0.7"/><polyline points="1106.1,789.3 1090,784" fill="none" stroke="#2a2a2a" stroke-width="0.7"/><polygon points="1254.5,801.2 1270.7,795.8 1270.6,783.2 1254.4,788.7" fill="#a89c83" stroke="#a89c83" stroke-width="0.5"/><polyline points="1254.5,801.2 1270.7,795.8" fill="none" stroke="#2a2a2a" stroke-width="0.7"/><polyline points="1270.6,783.2 1254.4,788.7" fill="none" stroke="#2a2a2a" stroke-width="0.7"/><polygon points="1237.1,805.6 1254.5,801.2 1254.4,788.7 1237,793.1" fill="#a89c83" stroke="#a89c83" stroke-width="0.5"/><polyline points="1237.1,805.6 1254.5,801.2" fill="none" stroke="#2a2a2a" stroke-width="0.7"/><polyline points="1254.4,788.7 1237,793.1" fill="none" stroke="#2a2a2a" stroke-width="0.7"/><polygon points="1106.2,801.8 1123.6,806 1123.5,793.5 1106.1,789.3" fill="#a89c83" stroke="#a89c83" stroke-width="0.5"/><polyline points="1106.2,801.8 1123.6,806" fill="none" stroke="#2a2a2a" stroke-width="0.7"/><polyline points="1123.5,793.5 1106.1,789.3" fill="none" stroke="#2a2a2a" stroke-width="0.7"/><polygon points="1123.6,806 1142,809.1 1141.9,796.6 1123.5,793.5" fill="#a89c83" stroke="#a89c83" stroke-width="0.5"/><polyline points="1123.6,806 1142,809.1" fill="none" stroke="#2a2a2a" stroke-width="0.7"/><polyline points="1141.9,796.6 1123.5,793.5" fill="none" stroke="#2a2a2a" stroke-width="0.7"/><polygon points="1218.7,808.8 1237.1,805.6 1237,793.1 1218.6,796.3" fill="#a89c83" stroke="#a89c83" stroke-width="0.5"/><polyline points="1218.7,808.8 1237.1,805.6" fill="none" stroke="#2a2a2a" stroke-width="0.7"/><polyline points="1237,793.1 1218.6,796.3" fill="none" stroke="#2a2a2a" stroke-width="0.7"/><polygon points="1142,809.1 1161,810.9 1160.9,798.4 1141.9,796.6" fill="#a89c83" stroke="#a89c83" stroke-width="0.5"/><polyline points="1142,809.1 1161,810.9" fill="none" stroke="#2a2a2a" stroke-width="0.7"/><polyline points="1160.9,798.4 1141.9,796.6" fill="none" stroke="#2a2a2a" stroke-width="0.7"/><polygon points="1199.7,810.8 1218.7,808.8 1218.6,796.3 1199.6,798.2" fill="#a89c83" stroke="#a89c83" stroke-width="0.5"/><polyline points="1199.7,810.8 1218.7,808.8" fill="none" stroke="#2a2a2a" stroke-width="0.7"/><polyline points="1218.6,796.3 1199.6,798.2" fill="none" stroke="#2a2a2a" stroke-width="0.7"/><polygon points="1161,810.9 1180.3,811.5 1180.2,798.9 1160.9,798.4" fill="#a89c83" stroke="#a89c83" stroke-width="0.5"/><polyline points="1161,810.9 1180.3,811.5" fill="none" stroke="#2a2a2a" stroke-width="0.7"/><polyline points="1180.2,798.9 1160.9,798.4" fill="none" stroke="#2a2a2a" stroke-width="0.7"/><polygon points="1180.3,811.5 1199.7,810.8 1199.6,798.2 1180.2,798.9" fill="#a89c83" stroke="#a89c83" stroke-width="0.5"/><polyline points="1180.3,811.5 1199.7,810.8" fill="none" stroke="#2a2a2a" stroke-width="0.7"/><polyline points="1199.6,798.2 1180.2,798.9" fill="none" stroke="#2a2a2a" stroke-width="0.7"/><polygon points="1285.2,776.8 866.5,568.5 853.7,575.8 842.9,584 834.3,592.7 828,601.9 824.2,611.5 822.9,621.1 824.1,630.8 827.9,640.3 834.1,649.5 842.6,658.2 853.4,666.2 866.1,673.5 1075.5,777.6 1090,784 1106.1,789.3 1123.5,793.5 1141.9,796.6 1160.9,798.4 1180.2,798.9 1199.6,798.2 1218.6,796.3 1237,793.1 1254.4,788.7 1270.6,783.2" fill="#998d74" stroke="#2a2a2a" stroke-width="0.7" stroke-linejoin="round"/><polyline points="1023.2,764.1 1023.1,751.6 1101.9,711.9" fill="none" stroke="#2a2a2a" stroke-width="0.6"/><polyline points="918.6,712 918.5,699.5 997.2,659.8" fill="none" stroke="#2a2a2a" stroke-width="0.6"/><use href="#b1" x="866.4" y="607.9"/><use href="#b1" x="840.1" y="621.1"/><use href="#b1" x="892.5" y="620.9"/><use href="#b1" x="866.3" y="634.1"/><use href="#b1" x="918.7" y="633.9"/><use href="#b1" x="892.4" y="647.1"/><use href="#b1" x="944.9" y="646.9"/><use href="#b1" x="866.2" y="660.3"/><use href="#b1" x="918.6" y="660.1"/><use href="#b1" x="971" y="659.9"/><use href="#b1" x="892.3" y="673.4"/><use href="#b1" x="944.8" y="673.2"/><use href="#b1" x="997.2" y="672.9"/><use href="#b1" x="918.5" y="686.4"/><use href="#b1" x="970.9" y="686.2"/><use href="#b1" x="1023.4" y="686"/><use href="#b1" x="944.7" y="699.4"/><use href="#b1" x="997.1" y="699.2"/><use href="#b1" x="1049.5" y="699"/><use href="#b1" x="970.8" y="712.4"/><use href="#b1" x="1023.3" y="712.2"/><use href="#b1" x="1075.7" y="712"/><use href="#b1" x="997" y="725.4"/><use href="#b1" x="1049.4" y="725.2"/><use href="#b1" x="1101.9" y="725"/><use href="#b1" x="1023.2" y="738.5"/><use href="#b1" x="1075.6" y="738.2"/><use href="#b1" x="1128" y="738"/><use href="#b1" x="1049.3" y="751.5"/><use href="#b1" x="1101.8" y="751.3"/><use href="#b1" x="1154.2" y="751.1"/><use href="#b1" x="1075.5" y="764.5"/><use href="#b1" x="1127.9" y="764.3"/><use href="#b1" x="1180.4" y="764.1"/><use href="#b1" x="1101.7" y="777.5"/><use href="#b1" x="1154.1" y="777.3"/><use href="#b1" x="1206.5" y="777.1"/><use href="#b1" x="1180.3" y="790.3"/>
<polygon points="1285.2,776.8 1259,763.8 1258.7,726.2 1284.9,739.2" fill="#b3b7bc" stroke="#2a2a2a" stroke-width="0.7" stroke-linejoin="round"/><polygon points="1285.2,776.8 1547.7,644.5 1547.4,606.9 1284.9,739.2" fill="#b9bdc2" stroke="#2a2a2a" stroke-width="0.7" stroke-linejoin="round"/><polygon points="1284.9,739.2 1547.4,606.9 1521.3,593.9 1258.7,726.2" fill="#b4b8bc" stroke="#2a2a2a" stroke-width="0.7" stroke-linejoin="round"/><line x1="1285" y1="758" x2="1547.6" y2="625.7" stroke="#d6dade" stroke-width="2.6"/><line x1="1285" y1="756.5" x2="1547.6" y2="624.2" stroke="#2a2a2a" stroke-width="0.7"/><line x1="1285" y1="759.5" x2="1547.6" y2="627.2" stroke="#2a2a2a" stroke-width="0.7"/><line x1="1298.3" y1="768.7" x2="1298.1" y2="752.9" stroke="#d6dade" stroke-width="2.4"/><line x1="1297" y1="769.3" x2="1296.8" y2="753.5" stroke="#2a2a2a" stroke-width="0.7"/><line x1="1299.6" y1="768" x2="1299.5" y2="752.2" stroke="#2a2a2a" stroke-width="0.7"/><line x1="1324.4" y1="736.7" x2="1324.2" y2="719.4" stroke="#d6dade" stroke-width="2.4"/><line x1="1323.1" y1="737.3" x2="1322.9" y2="720" stroke="#2a2a2a" stroke-width="0.7"/><line x1="1325.7" y1="736" x2="1325.6" y2="718.7" stroke="#2a2a2a" stroke-width="0.7"/><line x1="1363.8" y1="716.8" x2="1363.6" y2="699.5" stroke="#d6dade" stroke-width="2.4"/><line x1="1362.5" y1="717.5" x2="1362.3" y2="700.2" stroke="#2a2a2a" stroke-width="0.7"/><line x1="1365.1" y1="716.2" x2="1364.9" y2="698.9" stroke="#2a2a2a" stroke-width="0.7"/><line x1="1376.9" y1="710.2" x2="1376.8" y2="692.9" stroke="#d6dade" stroke-width="2.4"/><line x1="1375.6" y1="710.9" x2="1375.4" y2="693.6" stroke="#2a2a2a" stroke-width="0.7"/><line x1="1378.2" y1="709.5" x2="1378.1" y2="692.2" stroke="#2a2a2a" stroke-width="0.7"/><line x1="1350.8" y1="742.2" x2="1350.7" y2="726.4" stroke="#d6dade" stroke-width="2.4"/><line x1="1349.5" y1="742.9" x2="1349.4" y2="727.1" stroke="#2a2a2a" stroke-width="0.7"/><line x1="1352.1" y1="741.6" x2="1352" y2="725.8" stroke="#2a2a2a" stroke-width="0.7"/><line x1="1363.9" y1="735.6" x2="1363.8" y2="719.8" stroke="#d6dade" stroke-width="2.4"/><line x1="1362.6" y1="736.3" x2="1362.5" y2="720.5" stroke="#2a2a2a" stroke-width="0.7"/><line x1="1365.2" y1="734.9" x2="1365.1" y2="719.2" stroke="#2a2a2a" stroke-width="0.7"/><line x1="1403.3" y1="715.8" x2="1403.2" y2="700" stroke="#d6dade" stroke-width="2.4"/><line x1="1402" y1="716.4" x2="1401.9" y2="700.6" stroke="#2a2a2a" stroke-width="0.7"/><line x1="1404.6" y1="715.1" x2="1404.5" y2="699.3" stroke="#2a2a2a" stroke-width="0.7"/><line x1="1429.4" y1="683.7" x2="1429.3" y2="666.5" stroke="#d6dade" stroke-width="2.4"/><line x1="1428.1" y1="684.4" x2="1428" y2="667.1" stroke="#2a2a2a" stroke-width="0.7"/><line x1="1430.7" y1="683.1" x2="1430.6" y2="665.8" stroke="#2a2a2a" stroke-width="0.7"/><line x1="1468.8" y1="663.9" x2="1468.7" y2="646.6" stroke="#d6dade" stroke-width="2.4"/><line x1="1467.5" y1="664.6" x2="1467.3" y2="647.3" stroke="#2a2a2a" stroke-width="0.7"/><line x1="1470.1" y1="663.2" x2="1470" y2="646" stroke="#2a2a2a" stroke-width="0.7"/><line x1="1481.9" y1="657.3" x2="1481.8" y2="640" stroke="#d6dade" stroke-width="2.4"/><line x1="1480.6" y1="658" x2="1480.5" y2="640.7" stroke="#2a2a2a" stroke-width="0.7"/><line x1="1483.2" y1="656.6" x2="1483.1" y2="639.3" stroke="#2a2a2a" stroke-width="0.7"/><line x1="1455.8" y1="689.3" x2="1455.7" y2="673.5" stroke="#d6dade" stroke-width="2.4"/><line x1="1454.5" y1="690" x2="1454.4" y2="674.2" stroke="#2a2a2a" stroke-width="0.7"/><line x1="1457.1" y1="688.7" x2="1457" y2="672.9" stroke="#2a2a2a" stroke-width="0.7"/><line x1="1469" y1="682.7" x2="1468.8" y2="666.9" stroke="#d6dade" stroke-width="2.4"/><line x1="1467.6" y1="683.4" x2="1467.5" y2="667.6" stroke="#2a2a2a" stroke-width="0.7"/><line x1="1470.3" y1="682" x2="1470.1" y2="666.3" stroke="#2a2a2a" stroke-width="0.7"/><line x1="1508.3" y1="662.9" x2="1508.2" y2="647.1" stroke="#d6dade" stroke-width="2.4"/><line x1="1507" y1="663.5" x2="1506.9" y2="647.7" stroke="#2a2a2a" stroke-width="0.7"/><line x1="1509.6" y1="662.2" x2="1509.5" y2="646.4" stroke="#2a2a2a" stroke-width="0.7"/><line x1="1534.4" y1="630.8" x2="1534.3" y2="613.6" stroke="#d6dade" stroke-width="2.4"/><line x1="1533.1" y1="631.5" x2="1533" y2="614.2" stroke="#2a2a2a" stroke-width="0.7"/><line x1="1535.7" y1="630.2" x2="1535.6" y2="612.9" stroke="#2a2a2a" stroke-width="0.7"/>
<polygon points="1258.9,790 840.2,581.7 839.9,544.1 1258.6,752.4" fill="#b3b7bc" stroke="#2a2a2a" stroke-width="0.7" stroke-linejoin="round"/><polygon points="1258.9,790 1285.2,776.8 1284.9,739.2 1258.6,752.4" fill="#b9bdc2" stroke="#2a2a2a" stroke-width="0.7" stroke-linejoin="round"/><polygon points="1258.6,752.4 1284.9,739.2 866.2,530.9 839.9,544.1" fill="#b4b8bc" stroke="#2a2a2a" stroke-width="0.7" stroke-linejoin="round"/><line x1="1258.8" y1="771.2" x2="840.1" y2="562.9" stroke="#d6dade" stroke-width="2.6"/><line x1="1258.7" y1="769.7" x2="840.1" y2="561.4" stroke="#2a2a2a" stroke-width="0.7"/><line x1="1258.8" y1="772.7" x2="840.1" y2="564.4" stroke="#2a2a2a" stroke-width="0.7"/><line x1="1245.7" y1="763.2" x2="1245.5" y2="745.9" stroke="#d6dade" stroke-width="2.4"/><line x1="1247" y1="763.9" x2="1246.8" y2="746.6" stroke="#2a2a2a" stroke-width="0.7"/><line x1="1244.3" y1="762.6" x2="1244.2" y2="745.3" stroke="#2a2a2a" stroke-width="0.7"/><line x1="1206.4" y1="743.7" x2="1206.3" y2="726.4" stroke="#d6dade" stroke-width="2.4"/><line x1="1207.7" y1="744.3" x2="1207.6" y2="727" stroke="#2a2a2a" stroke-width="0.7"/><line x1="1205.1" y1="743" x2="1205" y2="725.7" stroke="#2a2a2a" stroke-width="0.7"/><line x1="1193.3" y1="737.2" x2="1193.2" y2="719.9" stroke="#d6dade" stroke-width="2.4"/><line x1="1194.6" y1="737.8" x2="1194.5" y2="720.5" stroke="#2a2a2a" stroke-width="0.7"/><line x1="1192" y1="736.5" x2="1191.9" y2="719.2" stroke="#2a2a2a" stroke-width="0.7"/><line x1="1219.6" y1="769" x2="1219.5" y2="753.2" stroke="#d6dade" stroke-width="2.4"/><line x1="1221" y1="769.6" x2="1220.8" y2="753.8" stroke="#2a2a2a" stroke-width="0.7"/><line x1="1218.3" y1="768.3" x2="1218.2" y2="752.5" stroke="#2a2a2a" stroke-width="0.7"/><line x1="1206.6" y1="762.5" x2="1206.4" y2="746.7" stroke="#d6dade" stroke-width="2.4"/><line x1="1207.9" y1="763.1" x2="1207.7" y2="747.3" stroke="#2a2a2a" stroke-width="0.7"/><line x1="1205.3" y1="761.8" x2="1205.1" y2="746" stroke="#2a2a2a" stroke-width="0.7"/><line x1="1167.3" y1="742.9" x2="1167.2" y2="727.2" stroke="#d6dade" stroke-width="2.4"/><line x1="1168.6" y1="743.6" x2="1168.5" y2="727.8" stroke="#2a2a2a" stroke-width="0.7"/><line x1="1166" y1="742.3" x2="1165.9" y2="726.5" stroke="#2a2a2a" stroke-width="0.7"/><line x1="1141" y1="711.1" x2="1140.8" y2="693.8" stroke="#d6dade" stroke-width="2.4"/><line x1="1142.3" y1="711.8" x2="1142.2" y2="694.5" stroke="#2a2a2a" stroke-width="0.7"/><line x1="1139.7" y1="710.5" x2="1139.5" y2="693.2" stroke="#2a2a2a" stroke-width="0.7"/><line x1="1101.7" y1="691.6" x2="1101.6" y2="674.3" stroke="#d6dade" stroke-width="2.4"/><line x1="1103" y1="692.3" x2="1102.9" y2="675" stroke="#2a2a2a" stroke-width="0.7"/><line x1="1100.4" y1="691" x2="1100.3" y2="673.7" stroke="#2a2a2a" stroke-width="0.7"/><line x1="1088.7" y1="685.1" x2="1088.5" y2="667.8" stroke="#d6dade" stroke-width="2.4"/><line x1="1090" y1="685.7" x2="1089.8" y2="668.5" stroke="#2a2a2a" stroke-width="0.7"/><line x1="1087.3" y1="684.4" x2="1087.2" y2="667.2" stroke="#2a2a2a" stroke-width="0.7"/><line x1="1115" y1="716.9" x2="1114.8" y2="701.1" stroke="#d6dade" stroke-width="2.4"/><line x1="1116.3" y1="717.6" x2="1116.2" y2="701.8" stroke="#2a2a2a" stroke-width="0.7"/><line x1="1113.7" y1="716.3" x2="1113.5" y2="700.5" stroke="#2a2a2a" stroke-width="0.7"/><line x1="1101.9" y1="710.4" x2="1101.8" y2="694.6" stroke="#d6dade" stroke-width="2.4"/><line x1="1103.2" y1="711" x2="1103.1" y2="695.3" stroke="#2a2a2a" stroke-width="0.7"/><line x1="1100.6" y1="709.7" x2="1100.5" y2="694" stroke="#2a2a2a" stroke-width="0.7"/><line x1="1062.6" y1="690.9" x2="1062.5" y2="675.1" stroke="#d6dade" stroke-width="2.4"/><line x1="1064" y1="691.5" x2="1063.8" y2="675.7" stroke="#2a2a2a" stroke-width="0.7"/><line x1="1061.3" y1="690.2" x2="1061.2" y2="674.4" stroke="#2a2a2a" stroke-width="0.7"/><line x1="1036.3" y1="659.1" x2="1036.2" y2="641.8" stroke="#d6dade" stroke-width="2.4"/><line x1="1037.6" y1="659.7" x2="1037.5" y2="642.4" stroke="#2a2a2a" stroke-width="0.7"/><line x1="1035" y1="658.4" x2="1034.9" y2="641.1" stroke="#2a2a2a" stroke-width="0.7"/><line x1="997.1" y1="639.5" x2="996.9" y2="622.2" stroke="#d6dade" stroke-width="2.4"/><line x1="998.4" y1="640.2" x2="998.2" y2="622.9" stroke="#2a2a2a" stroke-width="0.7"/><line x1="995.8" y1="638.9" x2="995.6" y2="621.6" stroke="#2a2a2a" stroke-width="0.7"/><line x1="984" y1="633" x2="983.8" y2="615.7" stroke="#d6dade" stroke-width="2.4"/><line x1="985.3" y1="633.7" x2="985.1" y2="616.4" stroke="#2a2a2a" stroke-width="0.7"/><line x1="982.7" y1="632.4" x2="982.5" y2="615.1" stroke="#2a2a2a" stroke-width="0.7"/><line x1="1010.3" y1="664.8" x2="1010.2" y2="649" stroke="#d6dade" stroke-width="2.4"/><line x1="1011.6" y1="665.5" x2="1011.5" y2="649.7" stroke="#2a2a2a" stroke-width="0.7"/><line x1="1009" y1="664.2" x2="1008.9" y2="648.4" stroke="#2a2a2a" stroke-width="0.7"/><line x1="997.2" y1="658.3" x2="997.1" y2="642.5" stroke="#d6dade" stroke-width="2.4"/><line x1="998.5" y1="659" x2="998.4" y2="643.2" stroke="#2a2a2a" stroke-width="0.7"/><line x1="995.9" y1="657.7" x2="995.8" y2="641.9" stroke="#2a2a2a" stroke-width="0.7"/><line x1="958" y1="638.8" x2="957.8" y2="623" stroke="#d6dade" stroke-width="2.4"/><line x1="959.3" y1="639.4" x2="959.2" y2="623.7" stroke="#2a2a2a" stroke-width="0.7"/><line x1="956.7" y1="638.1" x2="956.5" y2="622.4" stroke="#2a2a2a" stroke-width="0.7"/><line x1="931.7" y1="607" x2="931.5" y2="589.7" stroke="#d6dade" stroke-width="2.4"/><line x1="933" y1="607.6" x2="932.8" y2="590.3" stroke="#2a2a2a" stroke-width="0.7"/><line x1="930.3" y1="606.3" x2="930.2" y2="589" stroke="#2a2a2a" stroke-width="0.7"/><line x1="892.4" y1="587.5" x2="892.3" y2="570.2" stroke="#d6dade" stroke-width="2.4"/><line x1="893.7" y1="588.1" x2="893.6" y2="570.8" stroke="#2a2a2a" stroke-width="0.7"/><line x1="891.1" y1="586.8" x2="890.9" y2="569.5" stroke="#2a2a2a" stroke-width="0.7"/><line x1="879.3" y1="580.9" x2="879.2" y2="563.7" stroke="#d6dade" stroke-width="2.4"/><line x1="880.6" y1="581.6" x2="880.5" y2="564.3" stroke="#2a2a2a" stroke-width="0.7"/><line x1="878" y1="580.3" x2="877.9" y2="563" stroke="#2a2a2a" stroke-width="0.7"/><line x1="905.6" y1="612.8" x2="905.5" y2="597" stroke="#d6dade" stroke-width="2.4"/><line x1="906.9" y1="613.4" x2="906.8" y2="597.6" stroke="#2a2a2a" stroke-width="0.7"/><line x1="904.3" y1="612.1" x2="904.2" y2="596.3" stroke="#2a2a2a" stroke-width="0.7"/><line x1="892.6" y1="606.2" x2="892.4" y2="590.5" stroke="#d6dade" stroke-width="2.4"/><line x1="893.9" y1="606.9" x2="893.7" y2="591.1" stroke="#2a2a2a" stroke-width="0.7"/><line x1="891.2" y1="605.6" x2="891.1" y2="589.8" stroke="#2a2a2a" stroke-width="0.7"/><line x1="853.3" y1="586.7" x2="853.2" y2="570.9" stroke="#d6dade" stroke-width="2.4"/><line x1="854.6" y1="587.4" x2="854.5" y2="571.6" stroke="#2a2a2a" stroke-width="0.7"/><line x1="852" y1="586.1" x2="851.9" y2="570.3" stroke="#2a2a2a" stroke-width="0.7"/><use href="#b3" x="866.1" y="544"/><use href="#b3" x="892.3" y="557"/><use href="#b3" x="918.5" y="570.1"/><use href="#b3" x="944.6" y="583.1"/><use href="#b3" x="970.8" y="596.1"/><use href="#b3" x="997" y="609.1"/><use href="#b3" x="1023.1" y="622.1"/><use href="#b3" x="1049.3" y="635.2"/><use href="#b3" x="1075.5" y="648.2"/><use href="#b3" x="1101.6" y="661.2"/><use href="#b3" x="1127.8" y="674.2"/><use href="#b3" x="1154" y="687.2"/><use href="#b3" x="1180.1" y="700.2"/><use href="#b3" x="1206.3" y="713.3"/><use href="#b3" x="1232.5" y="726.3"/><use href="#b3" x="1258.6" y="739.3"/><ellipse cx="1277.5" cy="472" rx="8.5" ry="5" fill="#e8574c" fill-opacity="0.5"/><ellipse cx="1277.5" cy="466" rx="8.5" ry="5" fill="#ee6a5e" fill-opacity="0.5"/><ellipse cx="1279" cy="460" rx="5.5" ry="6" fill="#e8574c" fill-opacity="0.55"/><g id="n18"><polygon points="892.3,543.9 866.2,530.9 866.1,518.4 892.2,531.4" fill="#5e2006" stroke="#2a2a2a" stroke-width="0.7" stroke-linejoin="round"/><polygon points="892.3,543.9 1154.9,411.7 1154.8,399.1 892.2,531.4" fill="#5a1c03" stroke="#2a2a2a" stroke-width="0.7" stroke-linejoin="round"/><polygon points="892.2,531.4 1154.8,399.1 1128.6,386.1 866.1,518.4" fill="#581b02" stroke="#2a2a2a" stroke-width="0.7" stroke-linejoin="round"/><line x1="918.6" y1="530.7" x2="918.5" y2="518.2" stroke="#2a2a2a" stroke-width="0.7"/><line x1="997.4" y1="491" x2="997.3" y2="478.5" stroke="#2a2a2a" stroke-width="0.7"/><use href="#b2" x="1128.6" y="399.2"/><use href="#b2" x="1102.3" y="412.5"/><use href="#b2" x="1076.1" y="425.7"/><use href="#b2" x="1049.8" y="438.9"/><use href="#b2" x="1023.6" y="452.1"/><use href="#b2" x="997.3" y="465.4"/><use href="#b2" x="971.1" y="478.6"/><use href="#b2" x="944.8" y="491.8"/><use href="#b2" x="918.5" y="505"/><use href="#b2" x="892.3" y="518.3"/>
<polygon points="970.8,609.2 839.9,544.1 839.8,531.6 970.7,596.7" fill="#5e2006" stroke="#2a2a2a" stroke-width="0.7" stroke-linejoin="round"/><polygon points="970.8,609.2 997,596 996.9,583.5 970.7,596.7" fill="#5a1c03" stroke="#2a2a2a" stroke-width="0.7" stroke-linejoin="round"/><polygon points="970.7,596.7 996.9,583.5 866.1,518.4 839.8,531.6" fill="#581b02" stroke="#2a2a2a" stroke-width="0.7" stroke-linejoin="round"/><line x1="892.3" y1="570.2" x2="892.2" y2="557.6" stroke="#2a2a2a" stroke-width="0.7"/><use href="#b2" x="866" y="531.5"/><use href="#b2" x="892.2" y="544.5"/><use href="#b2" x="918.4" y="557.5"/><use href="#b2" x="944.5" y="570.5"/><use href="#b2" x="970.7" y="583.6"/>
<polygon points="1284.9,739.2 1258.7,726.2 1258.6,713.7 1284.7,726.7" fill="#5e2006" stroke="#2a2a2a" stroke-width="0.7" stroke-linejoin="round"/><polygon points="1284.9,739.2 1547.4,606.9 1547.3,594.4 1284.7,726.7" fill="#5a1c03" stroke="#2a2a2a" stroke-width="0.7" stroke-linejoin="round"/><polygon points="1284.7,726.7 1547.3,594.4 1521.2,581.4 1258.6,713.7" fill="#581b02" stroke="#2a2a2a" stroke-width="0.7" stroke-linejoin="round"/><line x1="1311.1" y1="726" x2="1311" y2="713.4" stroke="#2a2a2a" stroke-width="0.7"/><line x1="1389.9" y1="686.3" x2="1389.8" y2="673.8" stroke="#2a2a2a" stroke-width="0.7"/><use href="#b2" x="1521.1" y="594.5"/><use href="#b2" x="1494.8" y="607.7"/><use href="#b2" x="1468.6" y="621"/><use href="#b2" x="1442.3" y="634.2"/><use href="#b2" x="1416.1" y="647.4"/><use href="#b2" x="1389.8" y="660.6"/><use href="#b2" x="1363.6" y="673.9"/><use href="#b2" x="1337.3" y="687.1"/><use href="#b2" x="1311" y="700.3"/><use href="#b2" x="1284.8" y="713.5"/>
<polygon points="1258.6,752.4 1049.3,648.3 1049.2,635.7 1258.5,739.9" fill="#5e2006" stroke="#2a2a2a" stroke-width="0.7" stroke-linejoin="round"/><polygon points="1258.6,752.4 1284.9,739.2 1284.7,726.7 1258.5,739.9" fill="#5a1c03" stroke="#2a2a2a" stroke-width="0.7" stroke-linejoin="round"/><polygon points="1258.5,739.9 1284.7,726.7 1075.4,622.5 1049.2,635.7" fill="#581b02" stroke="#2a2a2a" stroke-width="0.7" stroke-linejoin="round"/><line x1="1206.3" y1="726.4" x2="1206.2" y2="713.9" stroke="#2a2a2a" stroke-width="0.7"/><use href="#b2" x="1075.4" y="635.6"/><use href="#b2" x="1101.5" y="648.7"/><use href="#b2" x="1127.7" y="661.7"/><use href="#b2" x="1153.9" y="674.7"/><use href="#b2" x="1180" y="687.7"/><use href="#b2" x="1206.2" y="700.7"/><use href="#b2" x="1232.4" y="713.8"/><use href="#b2" x="1258.5" y="726.8"/></g><use href="#n18" filter="url(#ol)"/></g>
<g transform="translate(16.9,586)"><text class="wm" transform="scale(0.9852,1.0414)" x="0" y="0">P</text><text class="wm" transform="scale(0.9852,1)" x="180.08" y="0">review</text><text class="wm" transform="scale(0.9852,1.0414)" x="1035.3" y="0">O</text><text class="wm" transform="scale(0.9852,1)" x="1245.31" y="0">nly</text></g>
</svg></body></html>
